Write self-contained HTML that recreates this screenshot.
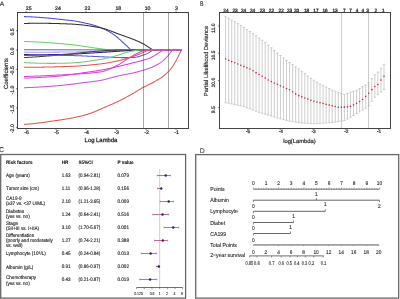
<!DOCTYPE html>
<html><head><meta charset="utf-8"><title>figure</title>
<style>
html,body{margin:0;padding:0;background:#fff;width:400px;height:299px;overflow:hidden}
svg{display:block;will-change:transform}
text{font-family:"Liberation Sans",sans-serif;text-rendering:geometricPrecision}
</style></head><body>
<svg width="400" height="299" viewBox="0 0 400 299">
<rect width="400" height="299" fill="#fff"/>
<text x="-0.3" y="6.0" font-size="6.6" text-anchor="start" fill="#333" stroke="#333" stroke-width="0.15">A</text>
<rect x="17.5" y="12.5" width="171.00" height="116.00" fill="none" stroke="#3a3a3a" stroke-width="0.95"/>
<line x1="26.00" y1="12.50" x2="26.00" y2="10.90" stroke="#333" stroke-width="0.6"/>
<text x="28.7" y="10.2" font-size="5.2" text-anchor="middle" fill="#222" stroke="#222" stroke-width="0.2">25</text>
<line x1="26.00" y1="128.50" x2="26.00" y2="130.10" stroke="#333" stroke-width="0.6"/>
<text x="26.5" y="134.0" font-size="5.2" text-anchor="middle" fill="#222" stroke="#222" stroke-width="0.2">-6</text>
<line x1="56.00" y1="12.50" x2="56.00" y2="10.90" stroke="#333" stroke-width="0.6"/>
<text x="58" y="10.2" font-size="5.2" text-anchor="middle" fill="#222" stroke="#222" stroke-width="0.2">24</text>
<line x1="56.00" y1="128.50" x2="56.00" y2="130.10" stroke="#333" stroke-width="0.6"/>
<text x="56.5" y="134.0" font-size="5.2" text-anchor="middle" fill="#222" stroke="#222" stroke-width="0.2">-5</text>
<line x1="86.00" y1="12.50" x2="86.00" y2="10.90" stroke="#333" stroke-width="0.6"/>
<text x="87.5" y="10.2" font-size="5.2" text-anchor="middle" fill="#222" stroke="#222" stroke-width="0.2">22</text>
<line x1="86.00" y1="128.50" x2="86.00" y2="130.10" stroke="#333" stroke-width="0.6"/>
<text x="86.5" y="134.0" font-size="5.2" text-anchor="middle" fill="#222" stroke="#222" stroke-width="0.2">-4</text>
<line x1="116.00" y1="12.50" x2="116.00" y2="10.90" stroke="#333" stroke-width="0.6"/>
<text x="118.3" y="10.2" font-size="5.2" text-anchor="middle" fill="#222" stroke="#222" stroke-width="0.2">18</text>
<line x1="116.00" y1="128.50" x2="116.00" y2="130.10" stroke="#333" stroke-width="0.6"/>
<text x="116.5" y="134.0" font-size="5.2" text-anchor="middle" fill="#222" stroke="#222" stroke-width="0.2">-3</text>
<line x1="146.00" y1="12.50" x2="146.00" y2="10.90" stroke="#333" stroke-width="0.6"/>
<text x="147.6" y="10.2" font-size="5.2" text-anchor="middle" fill="#222" stroke="#222" stroke-width="0.2">10</text>
<line x1="146.00" y1="128.50" x2="146.00" y2="130.10" stroke="#333" stroke-width="0.6"/>
<text x="146.5" y="134.0" font-size="5.2" text-anchor="middle" fill="#222" stroke="#222" stroke-width="0.2">-2</text>
<line x1="176.00" y1="12.50" x2="176.00" y2="10.90" stroke="#333" stroke-width="0.6"/>
<text x="176.4" y="10.2" font-size="5.2" text-anchor="middle" fill="#222" stroke="#222" stroke-width="0.2">3</text>
<line x1="176.00" y1="128.50" x2="176.00" y2="130.10" stroke="#333" stroke-width="0.6"/>
<text x="176.5" y="134.0" font-size="5.2" text-anchor="middle" fill="#222" stroke="#222" stroke-width="0.2">-1</text>
<line x1="17.50" y1="30.65" x2="15.90" y2="30.65" stroke="#333" stroke-width="0.6"/>
<text x="14.4" y="31.95" font-size="5.2" text-anchor="middle" fill="#222" stroke="#222" stroke-width="0.2" transform="rotate(-90 14.4 31.95)">0.5</text>
<line x1="17.50" y1="50.00" x2="15.90" y2="50.00" stroke="#333" stroke-width="0.6"/>
<text x="14.4" y="51.3" font-size="5.2" text-anchor="middle" fill="#222" stroke="#222" stroke-width="0.2" transform="rotate(-90 14.4 51.3)">0.0</text>
<line x1="17.50" y1="69.35" x2="15.90" y2="69.35" stroke="#333" stroke-width="0.6"/>
<text x="14.4" y="70.64999999999999" font-size="5.2" text-anchor="middle" fill="#222" stroke="#222" stroke-width="0.2" transform="rotate(-90 14.4 70.64999999999999)">-0.5</text>
<line x1="17.50" y1="88.70" x2="15.90" y2="88.70" stroke="#333" stroke-width="0.6"/>
<text x="14.4" y="90.0" font-size="5.2" text-anchor="middle" fill="#222" stroke="#222" stroke-width="0.2" transform="rotate(-90 14.4 90.0)">-1.0</text>
<line x1="17.50" y1="108.05" x2="15.90" y2="108.05" stroke="#333" stroke-width="0.6"/>
<text x="14.4" y="109.35000000000001" font-size="5.2" text-anchor="middle" fill="#222" stroke="#222" stroke-width="0.2" transform="rotate(-90 14.4 109.35000000000001)">-1.5</text>
<line x1="17.50" y1="127.40" x2="15.90" y2="127.40" stroke="#333" stroke-width="0.6"/>
<text x="14.4" y="128.70000000000002" font-size="5.2" text-anchor="middle" fill="#222" stroke="#222" stroke-width="0.2" transform="rotate(-90 14.4 128.70000000000002)">-2.0</text>
<text x="7.6" y="73.5" font-size="6.0" text-anchor="middle" fill="#222" stroke="#222" stroke-width="0.15" transform="rotate(-90 7.6 73.5)">Coefficients</text>
<text x="101" y="141.5" font-size="5.9" text-anchor="middle" fill="#222" stroke="#222" stroke-width="0.25">Log Lambda</text>
<path d="M24.00,16.60 L24.50,16.61 L25.00,16.62 L25.50,16.64 L26.00,16.65 L26.50,16.67 L27.00,16.68 L27.50,16.70 L28.00,16.72 L28.50,16.74 L29.00,16.76 L29.50,16.78 L30.00,16.80 L30.50,16.82 L31.00,16.85 L31.50,16.87 L32.00,16.90 L32.50,16.93 L33.00,16.95 L33.50,16.98 L34.00,17.01 L34.50,17.04 L35.00,17.07 L35.50,17.10 L36.00,17.13 L36.50,17.17 L37.00,17.20 L37.50,17.23 L38.00,17.27 L38.50,17.30 L39.00,17.34 L39.50,17.38 L40.00,17.41 L40.50,17.45 L41.00,17.49 L41.50,17.53 L42.00,17.57 L42.50,17.61 L43.00,17.65 L43.50,17.69 L44.00,17.74 L44.50,17.78 L45.00,17.82 L45.50,17.87 L46.00,17.91 L46.50,17.96 L47.00,18.00 L47.50,18.05 L48.00,18.09 L48.50,18.14 L49.00,18.19 L49.50,18.24 L50.00,18.28 L50.50,18.33 L51.00,18.38 L51.50,18.43 L52.00,18.48 L52.50,18.53 L53.00,18.58 L53.50,18.63 L54.00,18.68 L54.50,18.73 L55.00,18.79 L55.50,18.84 L56.00,18.89 L56.50,18.94 L57.00,18.99 L57.50,19.05 L58.00,19.10 L58.50,19.15 L59.00,19.21 L59.50,19.26 L60.00,19.31 L60.50,19.37 L61.00,19.42 L61.50,19.48 L62.00,19.53 L62.50,19.58 L63.00,19.64 L63.50,19.69 L64.00,19.75 L64.50,19.80 L65.00,19.86 L65.50,19.91 L66.00,19.96 L66.50,20.02 L67.00,20.07 L67.50,20.13 L68.00,20.18 L68.50,20.24 L69.00,20.29 L69.50,20.35 L70.00,20.40 L70.50,20.46 L71.00,20.51 L71.50,20.58 L72.00,20.64 L72.50,20.71 L73.00,20.78 L73.50,20.85 L74.00,20.92 L74.50,21.00 L75.00,21.08 L75.50,21.16 L76.00,21.25 L76.50,21.33 L77.00,21.42 L77.50,21.51 L78.00,21.61 L78.50,21.70 L79.00,21.80 L79.50,21.89 L80.00,21.99 L80.50,22.09 L81.00,22.20 L81.50,22.30 L82.00,22.40 L82.50,22.51 L83.00,22.62 L83.50,22.73 L84.00,22.84 L84.50,22.95 L85.00,23.06 L85.50,23.17 L86.00,23.28 L86.50,23.40 L87.00,23.51 L87.50,23.62 L88.00,23.74 L88.50,23.85 L89.00,23.97 L89.50,24.08 L90.00,24.20 L90.50,24.32 L91.00,24.44 L91.50,24.57 L92.00,24.71 L92.50,24.85 L93.00,24.99 L93.50,25.14 L94.00,25.29 L94.50,25.45 L95.00,25.61 L95.50,25.78 L96.00,25.95 L96.50,26.12 L97.00,26.30 L97.50,26.48 L98.00,26.67 L98.50,26.85 L99.00,27.04 L99.50,27.24 L100.00,27.43 L100.50,27.63 L101.00,27.83 L101.50,28.03 L102.00,28.24 L102.50,28.45 L103.00,28.65 L103.50,28.86 L104.00,29.07 L104.50,29.29 L105.00,29.50 L105.50,29.72 L106.00,29.95 L106.50,30.19 L107.00,30.44 L107.50,30.70 L108.00,30.97 L108.50,31.25 L109.00,31.54 L109.50,31.83 L110.00,32.14 L110.50,32.45 L111.00,32.77 L111.50,33.09 L112.00,33.42 L112.50,33.75 L113.00,34.09 L113.50,34.44 L114.00,34.79 L114.50,35.14 L115.00,35.50 L115.50,35.87 L116.00,36.25 L116.50,36.65 L117.00,37.06 L117.50,37.48 L118.00,37.92 L118.50,38.36 L119.00,38.81 L119.50,39.27 L120.00,39.73 L120.50,40.19 L121.00,40.66 L121.50,41.12 L122.00,41.58 L122.50,42.04 L123.00,42.50 L123.50,42.95 L124.00,43.41 L124.50,43.87 L125.00,44.33 L125.50,44.79 L126.00,45.25 L126.50,45.72 L127.00,46.19 L127.50,46.66 L128.00,47.13 L128.50,47.60 L129.00,48.08 L129.50,48.56 L130.00,49.04 L130.50,49.52 L131.00,50.00 L182,50" fill="none" stroke="#4b4bdc" stroke-width="1.05" stroke-linejoin="round"/>
<path d="M24.00,23.50 L24.50,23.48 L25.00,23.47 L25.50,23.45 L26.00,23.44 L26.50,23.42 L27.00,23.41 L27.50,23.40 L28.00,23.38 L28.50,23.37 L29.00,23.36 L29.50,23.35 L30.00,23.34 L30.50,23.33 L31.00,23.32 L31.50,23.32 L32.00,23.31 L32.50,23.30 L33.00,23.29 L33.50,23.29 L34.00,23.28 L34.50,23.28 L35.00,23.28 L35.50,23.27 L36.00,23.27 L36.50,23.27 L37.00,23.26 L37.50,23.26 L38.00,23.26 L38.50,23.26 L39.00,23.26 L39.50,23.26 L40.00,23.26 L40.50,23.26 L41.00,23.27 L41.50,23.27 L42.00,23.27 L42.50,23.27 L43.00,23.28 L43.50,23.28 L44.00,23.29 L44.50,23.29 L45.00,23.30 L45.50,23.30 L46.00,23.31 L46.50,23.32 L47.00,23.32 L47.50,23.33 L48.00,23.34 L48.50,23.35 L49.00,23.36 L49.50,23.37 L50.00,23.37 L50.50,23.38 L51.00,23.40 L51.50,23.41 L52.00,23.42 L52.50,23.43 L53.00,23.44 L53.50,23.45 L54.00,23.46 L54.50,23.48 L55.00,23.49 L55.50,23.50 L56.00,23.52 L56.50,23.53 L57.00,23.54 L57.50,23.56 L58.00,23.57 L58.50,23.59 L59.00,23.60 L59.50,23.62 L60.00,23.64 L60.50,23.65 L61.00,23.67 L61.50,23.68 L62.00,23.70 L62.50,23.72 L63.00,23.74 L63.50,23.75 L64.00,23.77 L64.50,23.79 L65.00,23.81 L65.50,23.83 L66.00,23.84 L66.50,23.86 L67.00,23.88 L67.50,23.90 L68.00,23.92 L68.50,23.94 L69.00,23.96 L69.50,23.98 L70.00,24.00 L70.50,24.02 L71.00,24.04 L71.50,24.07 L72.00,24.09 L72.50,24.12 L73.00,24.15 L73.50,24.18 L74.00,24.21 L74.50,24.25 L75.00,24.28 L75.50,24.32 L76.00,24.36 L76.50,24.40 L77.00,24.44 L77.50,24.48 L78.00,24.53 L78.50,24.57 L79.00,24.62 L79.50,24.67 L80.00,24.72 L80.50,24.77 L81.00,24.82 L81.50,24.87 L82.00,24.93 L82.50,24.99 L83.00,25.04 L83.50,25.10 L84.00,25.16 L84.50,25.23 L85.00,25.29 L85.50,25.35 L86.00,25.42 L86.50,25.49 L87.00,25.55 L87.50,25.62 L88.00,25.69 L88.50,25.77 L89.00,25.84 L89.50,25.91 L90.00,25.99 L90.50,26.06 L91.00,26.14 L91.50,26.22 L92.00,26.30 L92.50,26.38 L93.00,26.46 L93.50,26.54 L94.00,26.63 L94.50,26.71 L95.00,26.80 L95.50,26.88 L96.00,26.97 L96.50,27.06 L97.00,27.15 L97.50,27.24 L98.00,27.33 L98.50,27.42 L99.00,27.51 L99.50,27.61 L100.00,27.70 L100.50,27.80 L101.00,27.90 L101.50,28.02 L102.00,28.13 L102.50,28.26 L103.00,28.39 L103.50,28.52 L104.00,28.66 L104.50,28.81 L105.00,28.96 L105.50,29.12 L106.00,29.28 L106.50,29.44 L107.00,29.61 L107.50,29.78 L108.00,29.95 L108.50,30.13 L109.00,30.31 L109.50,30.50 L110.00,30.68 L110.50,30.87 L111.00,31.06 L111.50,31.25 L112.00,31.44 L112.50,31.64 L113.00,31.83 L113.50,32.02 L114.00,32.22 L114.50,32.42 L115.00,32.61 L115.50,32.81 L116.00,33.00 L116.50,33.19 L117.00,33.39 L117.50,33.58 L118.00,33.76 L118.50,33.95 L119.00,34.14 L119.50,34.32 L120.00,34.50 L120.50,34.68 L121.00,34.86 L121.50,35.03 L122.00,35.21 L122.50,35.39 L123.00,35.57 L123.50,35.75 L124.00,35.93 L124.50,36.10 L125.00,36.28 L125.50,36.46 L126.00,36.64 L126.50,36.82 L127.00,37.01 L127.50,37.19 L128.00,37.37 L128.50,37.55 L129.00,37.74 L129.50,37.92 L130.00,38.11 L130.50,38.30 L131.00,38.49 L131.50,38.68 L132.00,38.87 L132.50,39.07 L133.00,39.26 L133.50,39.46 L134.00,39.66 L134.50,39.86 L135.00,40.06 L135.50,40.26 L136.00,40.47 L136.50,40.68 L137.00,40.89 L137.50,41.10 L138.00,41.32 L138.50,41.53 L139.00,41.75 L139.50,41.98 L140.00,42.20 L140.50,42.43 L141.00,42.67 L141.50,42.92 L142.00,43.17 L142.50,43.44 L143.00,43.71 L143.50,43.98 L144.00,44.27 L144.50,44.56 L145.00,44.85 L145.50,45.16 L146.00,45.46 L146.50,45.77 L147.00,46.09 L147.50,46.41 L148.00,46.74 L148.50,47.07 L149.00,47.40 L149.50,47.73 L150.00,48.07 L150.50,48.41 L151.00,48.76 L151.50,49.10 L152.00,49.44 L152.50,49.79 L152.80,50.00 L182,50" fill="none" stroke="#333333" stroke-width="1.05" stroke-linejoin="round"/>
<path d="M24.00,41.50 L24.50,41.51 L25.00,41.52 L25.50,41.53 L26.00,41.55 L26.50,41.56 L27.00,41.57 L27.50,41.59 L28.00,41.60 L28.50,41.62 L29.00,41.63 L29.50,41.65 L30.00,41.67 L30.50,41.69 L31.00,41.71 L31.50,41.72 L32.00,41.74 L32.50,41.76 L33.00,41.78 L33.50,41.81 L34.00,41.83 L34.50,41.85 L35.00,41.87 L35.50,41.90 L36.00,41.92 L36.50,41.94 L37.00,41.97 L37.50,41.99 L38.00,42.02 L38.50,42.05 L39.00,42.07 L39.50,42.10 L40.00,42.13 L40.50,42.16 L41.00,42.19 L41.50,42.21 L42.00,42.24 L42.50,42.27 L43.00,42.31 L43.50,42.34 L44.00,42.37 L44.50,42.40 L45.00,42.43 L45.50,42.46 L46.00,42.50 L46.50,42.53 L47.00,42.57 L47.50,42.60 L48.00,42.63 L48.50,42.67 L49.00,42.71 L49.50,42.74 L50.00,42.78 L50.50,42.82 L51.00,42.85 L51.50,42.89 L52.00,42.93 L52.50,42.97 L53.00,43.00 L53.50,43.04 L54.00,43.08 L54.50,43.12 L55.00,43.16 L55.50,43.20 L56.00,43.24 L56.50,43.29 L57.00,43.33 L57.50,43.37 L58.00,43.41 L58.50,43.45 L59.00,43.50 L59.50,43.54 L60.00,43.58 L60.50,43.62 L61.00,43.67 L61.50,43.71 L62.00,43.76 L62.50,43.80 L63.00,43.85 L63.50,43.89 L64.00,43.94 L64.50,43.98 L65.00,44.03 L65.50,44.07 L66.00,44.12 L66.50,44.17 L67.00,44.21 L67.50,44.26 L68.00,44.31 L68.50,44.36 L69.00,44.40 L69.50,44.45 L70.00,44.50 L70.50,44.55 L71.00,44.60 L71.50,44.65 L72.00,44.71 L72.50,44.76 L73.00,44.82 L73.50,44.88 L74.00,44.94 L74.50,45.00 L75.00,45.06 L75.50,45.13 L76.00,45.19 L76.50,45.26 L77.00,45.33 L77.50,45.40 L78.00,45.47 L78.50,45.54 L79.00,45.61 L79.50,45.68 L80.00,45.75 L80.50,45.83 L81.00,45.90 L81.50,45.97 L82.00,46.05 L82.50,46.13 L83.00,46.20 L83.50,46.28 L84.00,46.35 L84.50,46.43 L85.00,46.51 L85.50,46.59 L86.00,46.66 L86.50,46.74 L87.00,46.82 L87.50,46.90 L88.00,46.97 L88.50,47.05 L89.00,47.13 L89.50,47.20 L90.00,47.28 L90.50,47.35 L91.00,47.43 L91.50,47.50 L92.00,47.57 L92.50,47.65 L93.00,47.72 L93.50,47.79 L94.00,47.86 L94.50,47.93 L95.00,48.00 L95.50,48.07 L96.00,48.14 L96.50,48.20 L97.00,48.27 L97.50,48.34 L98.00,48.41 L98.50,48.47 L99.00,48.54 L99.50,48.61 L100.00,48.68 L100.50,48.74 L101.00,48.81 L101.50,48.88 L102.00,48.95 L102.50,49.01 L103.00,49.08 L103.50,49.15 L104.00,49.21 L104.50,49.28 L105.00,49.34 L105.50,49.41 L106.00,49.48 L106.50,49.54 L107.00,49.61 L107.50,49.67 L108.00,49.74 L108.50,49.80 L109.00,49.87 L109.50,49.94 L110.00,50.00 L182,50" fill="none" stroke="#6ccf6c" stroke-width="1.05" stroke-linejoin="round"/>
<path d="M24.00,49.80 L182.00,50.00" fill="none" stroke="#5560d8" stroke-width="1.05" stroke-linejoin="round"/>
<path d="M24.00,52.20 L24.50,52.20 L25.00,52.20 L25.50,52.21 L26.00,52.21 L26.50,52.21 L27.00,52.21 L27.50,52.21 L28.00,52.21 L28.50,52.22 L29.00,52.22 L29.50,52.22 L30.00,52.22 L30.50,52.22 L31.00,52.22 L31.50,52.22 L32.00,52.22 L32.50,52.22 L33.00,52.22 L33.50,52.22 L34.00,52.22 L34.50,52.22 L35.00,52.22 L35.50,52.22 L36.00,52.22 L36.50,52.22 L37.00,52.22 L37.50,52.22 L38.00,52.22 L38.50,52.22 L39.00,52.22 L39.50,52.21 L40.00,52.21 L40.50,52.21 L41.00,52.21 L41.50,52.21 L42.00,52.21 L42.50,52.21 L43.00,52.20 L43.50,52.20 L44.00,52.20 L44.50,52.20 L45.00,52.20 L45.50,52.19 L46.00,52.19 L46.50,52.19 L47.00,52.19 L47.50,52.18 L48.00,52.18 L48.50,52.18 L49.00,52.18 L49.50,52.17 L50.00,52.17 L50.50,52.17 L51.00,52.16 L51.50,52.16 L52.00,52.16 L52.50,52.15 L53.00,52.15 L53.50,52.15 L54.00,52.14 L54.50,52.14 L55.00,52.14 L55.50,52.13 L56.00,52.13 L56.50,52.12 L57.00,52.12 L57.50,52.12 L58.00,52.11 L58.50,52.11 L59.00,52.10 L59.50,52.10 L60.00,52.10 L60.50,52.09 L61.00,52.09 L61.50,52.08 L62.00,52.08 L62.50,52.07 L63.00,52.07 L63.50,52.06 L64.00,52.06 L64.50,52.06 L65.00,52.05 L65.50,52.05 L66.00,52.04 L66.50,52.04 L67.00,52.03 L67.50,52.03 L68.00,52.02 L68.50,52.02 L69.00,52.01 L69.50,52.01 L70.00,52.00 L70.50,51.99 L71.00,51.99 L71.50,51.98 L72.00,51.98 L72.50,51.97 L73.00,51.96 L73.50,51.96 L74.00,51.95 L74.50,51.94 L75.00,51.93 L75.50,51.93 L76.00,51.92 L76.50,51.91 L77.00,51.90 L77.50,51.89 L78.00,51.88 L78.50,51.87 L79.00,51.86 L79.50,51.85 L80.00,51.84 L80.50,51.83 L81.00,51.82 L81.50,51.81 L82.00,51.80 L82.50,51.79 L83.00,51.78 L83.50,51.77 L84.00,51.76 L84.50,51.75 L85.00,51.74 L85.50,51.72 L86.00,51.71 L86.50,51.70 L87.00,51.69 L87.50,51.67 L88.00,51.66 L88.50,51.65 L89.00,51.63 L89.50,51.62 L90.00,51.61 L90.50,51.59 L91.00,51.58 L91.50,51.57 L92.00,51.55 L92.50,51.54 L93.00,51.53 L93.50,51.51 L94.00,51.50 L94.50,51.48 L95.00,51.47 L95.50,51.45 L96.00,51.44 L96.50,51.42 L97.00,51.41 L97.50,51.39 L98.00,51.38 L98.50,51.36 L99.00,51.35 L99.50,51.33 L100.00,51.32 L100.50,51.30 L101.00,51.29 L101.50,51.27 L102.00,51.26 L102.50,51.24 L103.00,51.22 L103.50,51.21 L104.00,51.19 L104.50,51.18 L105.00,51.16 L105.50,51.14 L106.00,51.13 L106.50,51.11 L107.00,51.10 L107.50,51.08 L108.00,51.06 L108.50,51.05 L109.00,51.03 L109.50,51.02 L110.00,51.00 L110.50,50.98 L111.00,50.97 L111.50,50.95 L112.00,50.93 L112.50,50.91 L113.00,50.89 L113.50,50.87 L114.00,50.85 L114.50,50.83 L115.00,50.81 L115.50,50.79 L116.00,50.76 L116.50,50.74 L117.00,50.72 L117.50,50.69 L118.00,50.67 L118.50,50.64 L119.00,50.62 L119.50,50.59 L120.00,50.57 L120.50,50.54 L121.00,50.51 L121.50,50.49 L122.00,50.46 L122.50,50.43 L123.00,50.40 L123.50,50.38 L124.00,50.35 L124.50,50.32 L125.00,50.29 L125.50,50.26 L126.00,50.23 L126.50,50.21 L127.00,50.18 L127.50,50.15 L128.00,50.12 L128.50,50.09 L129.00,50.06 L129.50,50.03 L130.00,50.00 L182,50" fill="none" stroke="#b898e0" stroke-width="1.05" stroke-linejoin="round"/>
<path d="M24.00,54.60 L24.50,54.61 L25.00,54.61 L25.50,54.62 L26.00,54.62 L26.50,54.63 L27.00,54.63 L27.50,54.64 L28.00,54.64 L28.50,54.64 L29.00,54.65 L29.50,54.65 L30.00,54.66 L30.50,54.66 L31.00,54.66 L31.50,54.66 L32.00,54.67 L32.50,54.67 L33.00,54.67 L33.50,54.67 L34.00,54.68 L34.50,54.68 L35.00,54.68 L35.50,54.68 L36.00,54.68 L36.50,54.68 L37.00,54.68 L37.50,54.68 L38.00,54.68 L38.50,54.68 L39.00,54.68 L39.50,54.68 L40.00,54.68 L40.50,54.68 L41.00,54.68 L41.50,54.68 L42.00,54.68 L42.50,54.68 L43.00,54.67 L43.50,54.67 L44.00,54.67 L44.50,54.67 L45.00,54.66 L45.50,54.66 L46.00,54.66 L46.50,54.65 L47.00,54.65 L47.50,54.65 L48.00,54.64 L48.50,54.64 L49.00,54.63 L49.50,54.63 L50.00,54.62 L50.50,54.62 L51.00,54.61 L51.50,54.61 L52.00,54.60 L52.50,54.59 L53.00,54.59 L53.50,54.58 L54.00,54.57 L54.50,54.56 L55.00,54.56 L55.50,54.55 L56.00,54.54 L56.50,54.53 L57.00,54.52 L57.50,54.51 L58.00,54.50 L58.50,54.50 L59.00,54.49 L59.50,54.48 L60.00,54.47 L60.50,54.45 L61.00,54.44 L61.50,54.43 L62.00,54.42 L62.50,54.41 L63.00,54.40 L63.50,54.38 L64.00,54.37 L64.50,54.36 L65.00,54.35 L65.50,54.33 L66.00,54.32 L66.50,54.31 L67.00,54.29 L67.50,54.28 L68.00,54.26 L68.50,54.25 L69.00,54.23 L69.50,54.22 L70.00,54.20 L70.50,54.18 L71.00,54.17 L71.50,54.15 L72.00,54.13 L72.50,54.11 L73.00,54.09 L73.50,54.07 L74.00,54.05 L74.50,54.03 L75.00,54.00 L75.50,53.98 L76.00,53.96 L76.50,53.93 L77.00,53.91 L77.50,53.88 L78.00,53.86 L78.50,53.83 L79.00,53.80 L79.50,53.78 L80.00,53.75 L80.50,53.72 L81.00,53.69 L81.50,53.66 L82.00,53.63 L82.50,53.60 L83.00,53.57 L83.50,53.54 L84.00,53.51 L84.50,53.48 L85.00,53.45 L85.50,53.42 L86.00,53.39 L86.50,53.36 L87.00,53.33 L87.50,53.30 L88.00,53.26 L88.50,53.23 L89.00,53.20 L89.50,53.17 L90.00,53.13 L90.50,53.10 L91.00,53.07 L91.50,53.04 L92.00,53.00 L92.50,52.97 L93.00,52.94 L93.50,52.91 L94.00,52.87 L94.50,52.84 L95.00,52.81 L95.50,52.78 L96.00,52.75 L96.50,52.72 L97.00,52.68 L97.50,52.65 L98.00,52.62 L98.50,52.59 L99.00,52.56 L99.50,52.53 L100.00,52.50 L100.50,52.47 L101.00,52.44 L101.50,52.41 L102.00,52.38 L102.50,52.35 L103.00,52.31 L103.50,52.28 L104.00,52.25 L104.50,52.22 L105.00,52.18 L105.50,52.15 L106.00,52.11 L106.50,52.08 L107.00,52.05 L107.50,52.01 L108.00,51.98 L108.50,51.94 L109.00,51.91 L109.50,51.87 L110.00,51.84 L110.50,51.80 L111.00,51.76 L111.50,51.73 L112.00,51.69 L112.50,51.66 L113.00,51.62 L113.50,51.59 L114.00,51.55 L114.50,51.51 L115.00,51.48 L115.50,51.44 L116.00,51.41 L116.50,51.37 L117.00,51.34 L117.50,51.30 L118.00,51.27 L118.50,51.23 L119.00,51.20 L119.50,51.16 L120.00,51.13 L120.50,51.09 L121.00,51.06 L121.50,51.03 L122.00,50.99 L122.50,50.96 L123.00,50.93 L123.50,50.90 L124.00,50.87 L124.50,50.83 L125.00,50.80 L125.50,50.77 L126.00,50.74 L126.50,50.71 L127.00,50.68 L127.50,50.66 L128.00,50.63 L128.50,50.60 L129.00,50.57 L129.50,50.55 L130.00,50.52 L130.50,50.50 L131.00,50.47 L131.50,50.45 L132.00,50.42 L132.50,50.40 L133.00,50.38 L133.50,50.36 L134.00,50.34 L134.50,50.32 L135.00,50.30 L135.50,50.28 L136.00,50.26 L136.50,50.25 L137.00,50.23 L137.50,50.21 L138.00,50.20 L138.50,50.18 L139.00,50.16 L139.50,50.15 L140.00,50.13 L140.50,50.12 L141.00,50.11 L141.50,50.09 L142.00,50.08 L142.50,50.07 L143.00,50.05 L143.50,50.04 L144.00,50.03 L144.50,50.02 L145.00,50.01 L145.50,50.00 L146.00,49.99 L146.50,49.98 L147.00,49.97 L147.50,49.96 L148.00,49.95 L148.50,49.94 L149.00,49.93 L149.50,49.92 L150.00,49.92 L150.50,49.91 L151.00,49.90 L151.50,49.90 L152.00,49.89 L152.50,49.88 L153.00,49.88 L153.50,49.87 L154.00,49.87 L154.50,49.86 L155.00,49.86 L155.50,49.85 L156.00,49.85 L156.50,49.85 L157.00,49.84 L157.50,49.84 L158.00,49.84 L158.50,49.84 L159.00,49.83 L159.50,49.83 L160.00,49.83 L160.50,49.83 L161.00,49.83 L161.50,49.83 L162.00,49.83 L162.50,49.83 L163.00,49.83 L163.50,49.83 L164.00,49.83 L164.50,49.83 L165.00,49.83 L165.50,49.83 L166.00,49.83 L166.50,49.84 L167.00,49.84 L167.50,49.84 L168.00,49.84 L168.50,49.85 L169.00,49.85 L169.50,49.85 L170.00,49.86 L170.50,49.86 L171.00,49.86 L171.50,49.87 L172.00,49.87 L172.50,49.88 L173.00,49.88 L173.50,49.89 L174.00,49.89 L174.50,49.90 L175.00,49.90 L175.50,49.91 L176.00,49.91 L176.50,49.92 L177.00,49.93 L177.50,49.93 L178.00,49.94 L178.50,49.95 L179.00,49.95 L179.50,49.96 L180.00,49.97 L180.50,49.98 L181.00,49.98 L181.50,49.99 L182.00,50.00" fill="none" stroke="#222288" stroke-width="1.05" stroke-linejoin="round"/>
<path d="M24.00,57.60 L24.50,57.57 L25.00,57.55 L25.50,57.52 L26.00,57.49 L26.50,57.46 L27.00,57.43 L27.50,57.40 L28.00,57.37 L28.50,57.34 L29.00,57.31 L29.50,57.28 L30.00,57.25 L30.50,57.22 L31.00,57.19 L31.50,57.16 L32.00,57.13 L32.50,57.09 L33.00,57.06 L33.50,57.03 L34.00,57.00 L34.50,56.96 L35.00,56.93 L35.50,56.90 L36.00,56.86 L36.50,56.83 L37.00,56.79 L37.50,56.76 L38.00,56.72 L38.50,56.69 L39.00,56.65 L39.50,56.62 L40.00,56.58 L40.50,56.54 L41.00,56.51 L41.50,56.47 L42.00,56.43 L42.50,56.40 L43.00,56.36 L43.50,56.32 L44.00,56.28 L44.50,56.25 L45.00,56.21 L45.50,56.17 L46.00,56.13 L46.50,56.09 L47.00,56.05 L47.50,56.02 L48.00,55.98 L48.50,55.94 L49.00,55.90 L49.50,55.86 L50.00,55.82 L50.50,55.78 L51.00,55.74 L51.50,55.70 L52.00,55.66 L52.50,55.62 L53.00,55.58 L53.50,55.54 L54.00,55.50 L54.50,55.46 L55.00,55.41 L55.50,55.37 L56.00,55.33 L56.50,55.29 L57.00,55.25 L57.50,55.21 L58.00,55.17 L58.50,55.13 L59.00,55.08 L59.50,55.04 L60.00,55.00 L60.50,54.96 L61.00,54.91 L61.50,54.87 L62.00,54.83 L62.50,54.78 L63.00,54.74 L63.50,54.69 L64.00,54.64 L64.50,54.59 L65.00,54.55 L65.50,54.50 L66.00,54.45 L66.50,54.40 L67.00,54.35 L67.50,54.30 L68.00,54.25 L68.50,54.19 L69.00,54.14 L69.50,54.09 L70.00,54.04 L70.50,53.98 L71.00,53.93 L71.50,53.88 L72.00,53.82 L72.50,53.77 L73.00,53.71 L73.50,53.66 L74.00,53.60 L74.50,53.55 L75.00,53.49 L75.50,53.43 L76.00,53.38 L76.50,53.32 L77.00,53.27 L77.50,53.21 L78.00,53.16 L78.50,53.10 L79.00,53.04 L79.50,52.99 L80.00,52.93 L80.50,52.88 L81.00,52.82 L81.50,52.76 L82.00,52.71 L82.50,52.65 L83.00,52.60 L83.50,52.54 L84.00,52.49 L84.50,52.44 L85.00,52.38 L85.50,52.33 L86.00,52.27 L86.50,52.22 L87.00,52.17 L87.50,52.12 L88.00,52.06 L88.50,52.01 L89.00,51.96 L89.50,51.91 L90.00,51.86 L90.50,51.81 L91.00,51.76 L91.50,51.71 L92.00,51.67 L92.50,51.62 L93.00,51.57 L93.50,51.53 L94.00,51.48 L94.50,51.44 L95.00,51.39 L95.50,51.35 L96.00,51.31 L96.50,51.27 L97.00,51.23 L97.50,51.19 L98.00,51.15 L98.50,51.11 L99.00,51.07 L99.50,51.04 L100.00,51.00 L100.50,50.97 L101.00,50.93 L101.50,50.90 L102.00,50.86 L102.50,50.83 L103.00,50.80 L103.50,50.76 L104.00,50.73 L104.50,50.70 L105.00,50.66 L105.50,50.63 L106.00,50.60 L106.50,50.57 L107.00,50.54 L107.50,50.51 L108.00,50.48 L108.50,50.45 L109.00,50.43 L109.50,50.40 L110.00,50.37 L110.50,50.35 L111.00,50.32 L111.50,50.30 L112.00,50.27 L112.50,50.25 L113.00,50.23 L113.50,50.20 L114.00,50.18 L114.50,50.16 L115.00,50.14 L115.50,50.12 L116.00,50.11 L116.50,50.09 L117.00,50.07 L117.50,50.06 L118.00,50.05 L118.50,50.03 L119.00,50.02 L119.50,50.01 L120.00,50.00 L182,50" fill="none" stroke="#444444" stroke-width="1.05" stroke-linejoin="round"/>
<path d="M24.00,55.50 L24.50,55.49 L25.00,55.49 L25.50,55.48 L26.00,55.47 L26.50,55.46 L27.00,55.46 L27.50,55.45 L28.00,55.44 L28.50,55.44 L29.00,55.43 L29.50,55.42 L30.00,55.42 L30.50,55.41 L31.00,55.40 L31.50,55.40 L32.00,55.39 L32.50,55.39 L33.00,55.38 L33.50,55.38 L34.00,55.37 L34.50,55.37 L35.00,55.36 L35.50,55.36 L36.00,55.35 L36.50,55.35 L37.00,55.34 L37.50,55.34 L38.00,55.33 L38.50,55.33 L39.00,55.33 L39.50,55.32 L40.00,55.32 L40.50,55.32 L41.00,55.31 L41.50,55.31 L42.00,55.31 L42.50,55.30 L43.00,55.30 L43.50,55.30 L44.00,55.30 L44.50,55.30 L45.00,55.29 L45.50,55.29 L46.00,55.29 L46.50,55.29 L47.00,55.29 L47.50,55.29 L48.00,55.29 L48.50,55.29 L49.00,55.29 L49.50,55.29 L50.00,55.29 L50.50,55.29 L51.00,55.29 L51.50,55.29 L52.00,55.29 L52.50,55.29 L53.00,55.29 L53.50,55.30 L54.00,55.30 L54.50,55.30 L55.00,55.30 L55.50,55.31 L56.00,55.31 L56.50,55.31 L57.00,55.32 L57.50,55.32 L58.00,55.32 L58.50,55.33 L59.00,55.33 L59.50,55.34 L60.00,55.34 L60.50,55.35 L61.00,55.35 L61.50,55.36 L62.00,55.36 L62.50,55.37 L63.00,55.38 L63.50,55.38 L64.00,55.39 L64.50,55.40 L65.00,55.41 L65.50,55.41 L66.00,55.42 L66.50,55.43 L67.00,55.44 L67.50,55.45 L68.00,55.46 L68.50,55.47 L69.00,55.48 L69.50,55.49 L70.00,55.50 L70.50,55.51 L71.00,55.52 L71.50,55.53 L72.00,55.55 L72.50,55.56 L73.00,55.57 L73.50,55.59 L74.00,55.60 L74.50,55.62 L75.00,55.63 L75.50,55.65 L76.00,55.67 L76.50,55.68 L77.00,55.70 L77.50,55.72 L78.00,55.74 L78.50,55.75 L79.00,55.77 L79.50,55.79 L80.00,55.81 L80.50,55.83 L81.00,55.85 L81.50,55.87 L82.00,55.89 L82.50,55.91 L83.00,55.93 L83.50,55.95 L84.00,55.98 L84.50,56.00 L85.00,56.02 L85.50,56.04 L86.00,56.06 L86.50,56.09 L87.00,56.11 L87.50,56.13 L88.00,56.15 L88.50,56.18 L89.00,56.20 L89.50,56.22 L90.00,56.24 L90.50,56.27 L91.00,56.29 L91.50,56.31 L92.00,56.34 L92.50,56.36 L93.00,56.38 L93.50,56.41 L94.00,56.43 L94.50,56.45 L95.00,56.48 L95.50,56.50 L96.00,56.52 L96.50,56.54 L97.00,56.57 L97.50,56.59 L98.00,56.61 L98.50,56.63 L99.00,56.66 L99.50,56.68 L100.00,56.70 L100.50,56.72 L101.00,56.74 L101.50,56.77 L102.00,56.79 L102.50,56.81 L103.00,56.84 L103.50,56.86 L104.00,56.88 L104.50,56.91 L105.00,56.93 L105.50,56.96 L106.00,56.98 L106.50,57.01 L107.00,57.03 L107.50,57.05 L108.00,57.08 L108.50,57.10 L109.00,57.13 L109.50,57.15 L110.00,57.18 L110.50,57.20 L111.00,57.23 L111.50,57.25 L112.00,57.27 L112.50,57.30 L113.00,57.32 L113.50,57.35 L114.00,57.37 L114.50,57.39 L115.00,57.41 L115.50,57.44 L116.00,57.46 L116.50,57.48 L117.00,57.50 L117.50,57.52 L118.00,57.54 L118.50,57.55 L119.00,57.57 L119.50,57.58 L120.00,57.59 L120.50,57.60 L121.00,57.61 L121.50,57.62 L122.00,57.62 L122.50,57.63 L123.00,57.63 L123.50,57.63 L124.00,57.63 L124.50,57.63 L125.00,57.63 L125.50,57.62 L126.00,57.62 L126.50,57.61 L127.00,57.61 L127.50,57.60 L128.00,57.60 L128.50,57.59 L129.00,57.58 L129.50,57.57 L130.00,57.56 L130.50,57.55 L131.00,57.54 L131.50,57.53 L132.00,57.52 L132.50,57.51 L133.00,57.50 L133.50,57.48 L134.00,57.45 L134.50,57.40 L135.00,57.34 L135.50,57.27 L136.00,57.18 L136.50,57.09 L137.00,56.98 L137.50,56.87 L138.00,56.74 L138.50,56.61 L139.00,56.47 L139.50,56.32 L140.00,56.17 L140.50,56.02 L141.00,55.85 L141.50,55.69 L142.00,55.52 L142.50,55.35 L143.00,55.18 L143.50,55.01 L144.00,54.84 L144.50,54.67 L145.00,54.50 L145.50,54.32 L146.00,54.12 L146.50,53.90 L147.00,53.66 L147.50,53.40 L148.00,53.12 L148.50,52.84 L149.00,52.54 L149.50,52.22 L150.00,51.90 L150.50,51.57 L151.00,51.24 L151.50,50.90 L152.00,50.55 L152.50,50.21 L152.80,50.00 L182,50" fill="none" stroke="#5a5ae0" stroke-width="1.05" stroke-linejoin="round"/>
<path d="M24.00,62.60 L24.50,62.63 L25.00,62.65 L25.50,62.68 L26.00,62.70 L26.50,62.73 L27.00,62.75 L27.50,62.78 L28.00,62.80 L28.50,62.82 L29.00,62.85 L29.50,62.87 L30.00,62.89 L30.50,62.91 L31.00,62.93 L31.50,62.95 L32.00,62.97 L32.50,62.99 L33.00,63.01 L33.50,63.03 L34.00,63.05 L34.50,63.06 L35.00,63.08 L35.50,63.10 L36.00,63.11 L36.50,63.13 L37.00,63.15 L37.50,63.16 L38.00,63.17 L38.50,63.19 L39.00,63.20 L39.50,63.21 L40.00,63.23 L40.50,63.24 L41.00,63.25 L41.50,63.26 L42.00,63.27 L42.50,63.28 L43.00,63.29 L43.50,63.30 L44.00,63.31 L44.50,63.31 L45.00,63.32 L45.50,63.33 L46.00,63.34 L46.50,63.34 L47.00,63.35 L47.50,63.35 L48.00,63.36 L48.50,63.36 L49.00,63.36 L49.50,63.37 L50.00,63.37 L50.50,63.37 L51.00,63.37 L51.50,63.37 L52.00,63.37 L52.50,63.37 L53.00,63.37 L53.50,63.37 L54.00,63.37 L54.50,63.36 L55.00,63.36 L55.50,63.36 L56.00,63.35 L56.50,63.35 L57.00,63.34 L57.50,63.33 L58.00,63.33 L58.50,63.32 L59.00,63.31 L59.50,63.31 L60.00,63.30 L60.50,63.29 L61.00,63.28 L61.50,63.27 L62.00,63.26 L62.50,63.24 L63.00,63.23 L63.50,63.22 L64.00,63.21 L64.50,63.19 L65.00,63.18 L65.50,63.16 L66.00,63.15 L66.50,63.13 L67.00,63.11 L67.50,63.10 L68.00,63.08 L68.50,63.06 L69.00,63.04 L69.50,63.02 L70.00,63.00 L70.50,62.98 L71.00,62.95 L71.50,62.93 L72.00,62.90 L72.50,62.87 L73.00,62.84 L73.50,62.81 L74.00,62.78 L74.50,62.74 L75.00,62.71 L75.50,62.67 L76.00,62.63 L76.50,62.59 L77.00,62.54 L77.50,62.50 L78.00,62.45 L78.50,62.40 L79.00,62.36 L79.50,62.31 L80.00,62.26 L80.50,62.20 L81.00,62.15 L81.50,62.09 L82.00,62.04 L82.50,61.98 L83.00,61.92 L83.50,61.86 L84.00,61.80 L84.50,61.74 L85.00,61.68 L85.50,61.62 L86.00,61.55 L86.50,61.49 L87.00,61.42 L87.50,61.35 L88.00,61.29 L88.50,61.22 L89.00,61.15 L89.50,61.08 L90.00,61.01 L90.50,60.94 L91.00,60.87 L91.50,60.79 L92.00,60.72 L92.50,60.65 L93.00,60.57 L93.50,60.50 L94.00,60.42 L94.50,60.35 L95.00,60.27 L95.50,60.20 L96.00,60.12 L96.50,60.04 L97.00,59.97 L97.50,59.89 L98.00,59.81 L98.50,59.73 L99.00,59.66 L99.50,59.58 L100.00,59.50 L100.50,59.42 L101.00,59.34 L101.50,59.25 L102.00,59.16 L102.50,59.07 L103.00,58.97 L103.50,58.87 L104.00,58.77 L104.50,58.66 L105.00,58.56 L105.50,58.45 L106.00,58.34 L106.50,58.22 L107.00,58.10 L107.50,57.99 L108.00,57.87 L108.50,57.74 L109.00,57.62 L109.50,57.49 L110.00,57.37 L110.50,57.24 L111.00,57.11 L111.50,56.98 L112.00,56.85 L112.50,56.71 L113.00,56.58 L113.50,56.45 L114.00,56.31 L114.50,56.18 L115.00,56.04 L115.50,55.91 L116.00,55.77 L116.50,55.64 L117.00,55.50 L117.50,55.36 L118.00,55.21 L118.50,55.06 L119.00,54.90 L119.50,54.74 L120.00,54.57 L120.50,54.39 L121.00,54.22 L121.50,54.04 L122.00,53.87 L122.50,53.69 L123.00,53.52 L123.50,53.34 L124.00,53.17 L124.50,53.00 L125.00,52.84 L125.50,52.68 L126.00,52.53 L126.50,52.38 L127.00,52.25 L127.50,52.12 L128.00,52.00 L128.50,51.89 L129.00,51.77 L129.50,51.66 L130.00,51.55 L130.50,51.45 L131.00,51.34 L131.50,51.24 L132.00,51.14 L132.50,51.04 L133.00,50.94 L133.50,50.85 L134.00,50.76 L134.50,50.67 L135.00,50.59 L135.50,50.51 L136.00,50.44 L136.50,50.37 L137.00,50.30 L137.50,50.24 L138.00,50.18 L138.50,50.13 L139.00,50.08 L139.50,50.04 L140.00,50.00 L182,50" fill="none" stroke="#6ccf6c" stroke-width="1.05" stroke-linejoin="round"/>
<path d="M24.00,67.20 L24.50,67.21 L25.00,67.21 L25.50,67.21 L26.00,67.22 L26.50,67.22 L27.00,67.22 L27.50,67.23 L28.00,67.23 L28.50,67.23 L29.00,67.23 L29.50,67.23 L30.00,67.23 L30.50,67.23 L31.00,67.23 L31.50,67.23 L32.00,67.23 L32.50,67.23 L33.00,67.23 L33.50,67.23 L34.00,67.22 L34.50,67.22 L35.00,67.22 L35.50,67.21 L36.00,67.21 L36.50,67.21 L37.00,67.20 L37.50,67.20 L38.00,67.19 L38.50,67.19 L39.00,67.18 L39.50,67.18 L40.00,67.17 L40.50,67.16 L41.00,67.16 L41.50,67.15 L42.00,67.14 L42.50,67.13 L43.00,67.12 L43.50,67.12 L44.00,67.11 L44.50,67.10 L45.00,67.09 L45.50,67.08 L46.00,67.07 L46.50,67.06 L47.00,67.05 L47.50,67.04 L48.00,67.03 L48.50,67.02 L49.00,67.01 L49.50,67.00 L50.00,66.99 L50.50,66.97 L51.00,66.96 L51.50,66.95 L52.00,66.94 L52.50,66.93 L53.00,66.91 L53.50,66.90 L54.00,66.89 L54.50,66.87 L55.00,66.86 L55.50,66.85 L56.00,66.83 L56.50,66.82 L57.00,66.81 L57.50,66.79 L58.00,66.78 L58.50,66.76 L59.00,66.75 L59.50,66.73 L60.00,66.72 L60.50,66.70 L61.00,66.69 L61.50,66.67 L62.00,66.66 L62.50,66.64 L63.00,66.63 L63.50,66.61 L64.00,66.60 L64.50,66.58 L65.00,66.56 L65.50,66.55 L66.00,66.53 L66.50,66.52 L67.00,66.50 L67.50,66.48 L68.00,66.47 L68.50,66.45 L69.00,66.43 L69.50,66.42 L70.00,66.40 L70.50,66.38 L71.00,66.36 L71.50,66.34 L72.00,66.32 L72.50,66.30 L73.00,66.28 L73.50,66.26 L74.00,66.23 L74.50,66.21 L75.00,66.18 L75.50,66.15 L76.00,66.12 L76.50,66.09 L77.00,66.06 L77.50,66.03 L78.00,66.00 L78.50,65.97 L79.00,65.93 L79.50,65.90 L80.00,65.86 L80.50,65.82 L81.00,65.79 L81.50,65.75 L82.00,65.71 L82.50,65.67 L83.00,65.63 L83.50,65.59 L84.00,65.55 L84.50,65.51 L85.00,65.47 L85.50,65.42 L86.00,65.38 L86.50,65.33 L87.00,65.29 L87.50,65.24 L88.00,65.20 L88.50,65.15 L89.00,65.11 L89.50,65.06 L90.00,65.01 L90.50,64.96 L91.00,64.91 L91.50,64.87 L92.00,64.82 L92.50,64.77 L93.00,64.72 L93.50,64.67 L94.00,64.62 L94.50,64.57 L95.00,64.52 L95.50,64.47 L96.00,64.41 L96.50,64.36 L97.00,64.31 L97.50,64.26 L98.00,64.21 L98.50,64.16 L99.00,64.10 L99.50,64.05 L100.00,64.00 L100.50,63.95 L101.00,63.89 L101.50,63.83 L102.00,63.77 L102.50,63.70 L103.00,63.63 L103.50,63.56 L104.00,63.49 L104.50,63.41 L105.00,63.33 L105.50,63.25 L106.00,63.17 L106.50,63.09 L107.00,63.00 L107.50,62.91 L108.00,62.82 L108.50,62.73 L109.00,62.63 L109.50,62.54 L110.00,62.44 L110.50,62.34 L111.00,62.24 L111.50,62.14 L112.00,62.04 L112.50,61.94 L113.00,61.84 L113.50,61.74 L114.00,61.63 L114.50,61.53 L115.00,61.42 L115.50,61.32 L116.00,61.21 L116.50,61.11 L117.00,61.00 L117.50,60.89 L118.00,60.78 L118.50,60.67 L119.00,60.56 L119.50,60.44 L120.00,60.32 L120.50,60.20 L121.00,60.07 L121.50,59.95 L122.00,59.82 L122.50,59.68 L123.00,59.55 L123.50,59.41 L124.00,59.28 L124.50,59.14 L125.00,59.00 L125.50,58.85 L126.00,58.71 L126.50,58.56 L127.00,58.41 L127.50,58.26 L128.00,58.11 L128.50,57.95 L129.00,57.80 L129.50,57.64 L130.00,57.48 L130.50,57.32 L131.00,57.16 L131.50,57.00 L132.00,56.83 L132.50,56.67 L133.00,56.50 L133.50,56.33 L134.00,56.15 L134.50,55.97 L135.00,55.79 L135.50,55.60 L136.00,55.40 L136.50,55.21 L137.00,55.00 L137.50,54.80 L138.00,54.59 L138.50,54.39 L139.00,54.18 L139.50,53.97 L140.00,53.75 L140.50,53.54 L141.00,53.33 L141.50,53.12 L142.00,52.91 L142.50,52.71 L143.00,52.50 L143.50,52.30 L144.00,52.09 L144.50,51.88 L145.00,51.68 L145.50,51.47 L146.00,51.26 L146.50,51.05 L147.00,50.84 L147.50,50.63 L148.00,50.42 L148.50,50.21 L149.00,50.00 L182,50" fill="none" stroke="#e8584a" stroke-width="1.05" stroke-linejoin="round"/>
<path d="M24.00,76.50 L24.50,76.49 L25.00,76.47 L25.50,76.46 L26.00,76.44 L26.50,76.42 L27.00,76.41 L27.50,76.39 L28.00,76.37 L28.50,76.36 L29.00,76.34 L29.50,76.32 L30.00,76.31 L30.50,76.29 L31.00,76.27 L31.50,76.25 L32.00,76.23 L32.50,76.22 L33.00,76.20 L33.50,76.18 L34.00,76.16 L34.50,76.14 L35.00,76.12 L35.50,76.10 L36.00,76.08 L36.50,76.06 L37.00,76.04 L37.50,76.02 L38.00,76.00 L38.50,75.98 L39.00,75.96 L39.50,75.94 L40.00,75.92 L40.50,75.90 L41.00,75.87 L41.50,75.85 L42.00,75.83 L42.50,75.81 L43.00,75.79 L43.50,75.77 L44.00,75.74 L44.50,75.72 L45.00,75.70 L45.50,75.68 L46.00,75.65 L46.50,75.63 L47.00,75.61 L47.50,75.59 L48.00,75.56 L48.50,75.54 L49.00,75.52 L49.50,75.49 L50.00,75.47 L50.50,75.45 L51.00,75.42 L51.50,75.40 L52.00,75.38 L52.50,75.35 L53.00,75.33 L53.50,75.31 L54.00,75.28 L54.50,75.26 L55.00,75.24 L55.50,75.21 L56.00,75.19 L56.50,75.17 L57.00,75.14 L57.50,75.12 L58.00,75.09 L58.50,75.07 L59.00,75.05 L59.50,75.02 L60.00,75.00 L60.50,74.98 L61.00,74.95 L61.50,74.93 L62.00,74.90 L62.50,74.88 L63.00,74.85 L63.50,74.83 L64.00,74.80 L64.50,74.77 L65.00,74.74 L65.50,74.72 L66.00,74.69 L66.50,74.66 L67.00,74.63 L67.50,74.60 L68.00,74.58 L68.50,74.55 L69.00,74.52 L69.50,74.49 L70.00,74.46 L70.50,74.43 L71.00,74.40 L71.50,74.37 L72.00,74.34 L72.50,74.30 L73.00,74.27 L73.50,74.24 L74.00,74.21 L74.50,74.18 L75.00,74.15 L75.50,74.12 L76.00,74.08 L76.50,74.05 L77.00,74.02 L77.50,73.99 L78.00,73.95 L78.50,73.92 L79.00,73.89 L79.50,73.86 L80.00,73.82 L80.50,73.79 L81.00,73.76 L81.50,73.73 L82.00,73.69 L82.50,73.66 L83.00,73.63 L83.50,73.60 L84.00,73.56 L84.50,73.53 L85.00,73.50 L85.50,73.47 L86.00,73.43 L86.50,73.40 L87.00,73.36 L87.50,73.32 L88.00,73.29 L88.50,73.25 L89.00,73.21 L89.50,73.16 L90.00,73.12 L90.50,73.08 L91.00,73.03 L91.50,72.99 L92.00,72.94 L92.50,72.89 L93.00,72.84 L93.50,72.79 L94.00,72.73 L94.50,72.68 L95.00,72.62 L95.50,72.57 L96.00,72.51 L96.50,72.45 L97.00,72.39 L97.50,72.33 L98.00,72.27 L98.50,72.20 L99.00,72.14 L99.50,72.07 L100.00,72.00 L100.50,71.93 L101.00,71.84 L101.50,71.75 L102.00,71.64 L102.50,71.53 L103.00,71.40 L103.50,71.27 L104.00,71.13 L104.50,70.98 L105.00,70.82 L105.50,70.66 L106.00,70.49 L106.50,70.31 L107.00,70.12 L107.50,69.93 L108.00,69.73 L108.50,69.53 L109.00,69.32 L109.50,69.10 L110.00,68.89 L110.50,68.66 L111.00,68.43 L111.50,68.20 L112.00,67.97 L112.50,67.73 L113.00,67.49 L113.50,67.25 L114.00,67.00 L114.50,66.76 L115.00,66.51 L115.50,66.26 L116.00,66.01 L116.50,65.75 L117.00,65.50 L117.50,65.25 L118.00,65.00 L118.50,64.74 L119.00,64.47 L119.50,64.18 L120.00,63.87 L120.50,63.56 L121.00,63.23 L121.50,62.90 L122.00,62.56 L122.50,62.22 L123.00,61.87 L123.50,61.52 L124.00,61.17 L124.50,60.81 L125.00,60.47 L125.50,60.12 L126.00,59.78 L126.50,59.45 L127.00,59.12 L127.50,58.80 L128.00,58.50 L128.50,58.20 L129.00,57.90 L129.50,57.61 L130.00,57.31 L130.50,57.02 L131.00,56.73 L131.50,56.44 L132.00,56.16 L132.50,55.88 L133.00,55.60 L133.50,55.32 L134.00,55.05 L134.50,54.78 L135.00,54.51 L135.50,54.25 L136.00,54.00 L136.50,53.75 L137.00,53.50 L137.50,53.26 L138.00,53.02 L138.50,52.78 L139.00,52.54 L139.50,52.31 L140.00,52.08 L140.50,51.85 L141.00,51.63 L141.50,51.41 L142.00,51.19 L142.50,50.98 L143.00,50.77 L143.50,50.57 L144.00,50.38 L144.50,50.19 L145.00,50.00 L182,50" fill="none" stroke="#e040e0" stroke-width="1.05" stroke-linejoin="round"/>
<path d="M24.00,78.00 L24.50,77.99 L25.00,77.99 L25.50,77.98 L26.00,77.97 L26.50,77.97 L27.00,77.96 L27.50,77.95 L28.00,77.93 L28.50,77.92 L29.00,77.91 L29.50,77.90 L30.00,77.88 L30.50,77.87 L31.00,77.85 L31.50,77.84 L32.00,77.82 L32.50,77.80 L33.00,77.79 L33.50,77.77 L34.00,77.75 L34.50,77.73 L35.00,77.71 L35.50,77.69 L36.00,77.67 L36.50,77.64 L37.00,77.62 L37.50,77.60 L38.00,77.57 L38.50,77.55 L39.00,77.52 L39.50,77.49 L40.00,77.47 L40.50,77.44 L41.00,77.41 L41.50,77.38 L42.00,77.35 L42.50,77.33 L43.00,77.30 L43.50,77.26 L44.00,77.23 L44.50,77.20 L45.00,77.17 L45.50,77.14 L46.00,77.10 L46.50,77.07 L47.00,77.04 L47.50,77.00 L48.00,76.97 L48.50,76.93 L49.00,76.89 L49.50,76.86 L50.00,76.82 L50.50,76.78 L51.00,76.75 L51.50,76.71 L52.00,76.67 L52.50,76.63 L53.00,76.59 L53.50,76.55 L54.00,76.51 L54.50,76.47 L55.00,76.43 L55.50,76.39 L56.00,76.35 L56.50,76.30 L57.00,76.26 L57.50,76.22 L58.00,76.18 L58.50,76.13 L59.00,76.09 L59.50,76.04 L60.00,76.00 L60.50,75.95 L61.00,75.91 L61.50,75.86 L62.00,75.81 L62.50,75.75 L63.00,75.70 L63.50,75.64 L64.00,75.59 L64.50,75.53 L65.00,75.47 L65.50,75.40 L66.00,75.34 L66.50,75.28 L67.00,75.21 L67.50,75.14 L68.00,75.07 L68.50,75.00 L69.00,74.93 L69.50,74.86 L70.00,74.79 L70.50,74.72 L71.00,74.64 L71.50,74.57 L72.00,74.49 L72.50,74.42 L73.00,74.34 L73.50,74.27 L74.00,74.19 L74.50,74.11 L75.00,74.03 L75.50,73.95 L76.00,73.88 L76.50,73.80 L77.00,73.72 L77.50,73.64 L78.00,73.56 L78.50,73.48 L79.00,73.41 L79.50,73.33 L80.00,73.25 L80.50,73.17 L81.00,73.10 L81.50,73.02 L82.00,72.94 L82.50,72.87 L83.00,72.79 L83.50,72.72 L84.00,72.64 L84.50,72.57 L85.00,72.50 L85.50,72.43 L86.00,72.36 L86.50,72.29 L87.00,72.22 L87.50,72.15 L88.00,72.08 L88.50,72.01 L89.00,71.94 L89.50,71.87 L90.00,71.80 L90.50,71.73 L91.00,71.66 L91.50,71.59 L92.00,71.52 L92.50,71.45 L93.00,71.38 L93.50,71.31 L94.00,71.24 L94.50,71.16 L95.00,71.09 L95.50,71.01 L96.00,70.94 L96.50,70.86 L97.00,70.79 L97.50,70.71 L98.00,70.63 L98.50,70.55 L99.00,70.47 L99.50,70.38 L100.00,70.30 L100.50,70.21 L101.00,70.13 L101.50,70.04 L102.00,69.95 L102.50,69.85 L103.00,69.76 L103.50,69.66 L104.00,69.57 L104.50,69.47 L105.00,69.37 L105.50,69.27 L106.00,69.17 L106.50,69.06 L107.00,68.96 L107.50,68.85 L108.00,68.75 L108.50,68.64 L109.00,68.53 L109.50,68.42 L110.00,68.31 L110.50,68.20 L111.00,68.09 L111.50,67.98 L112.00,67.86 L112.50,67.75 L113.00,67.64 L113.50,67.53 L114.00,67.41 L114.50,67.30 L115.00,67.18 L115.50,67.07 L116.00,66.96 L116.50,66.84 L117.00,66.73 L117.50,66.61 L118.00,66.50 L118.50,66.39 L119.00,66.27 L119.50,66.16 L120.00,66.04 L120.50,65.92 L121.00,65.81 L121.50,65.69 L122.00,65.57 L122.50,65.45 L123.00,65.34 L123.50,65.22 L124.00,65.10 L124.50,64.98 L125.00,64.86 L125.50,64.73 L126.00,64.61 L126.50,64.49 L127.00,64.37 L127.50,64.24 L128.00,64.12 L128.50,64.00 L129.00,63.87 L129.50,63.75 L130.00,63.62 L130.50,63.49 L131.00,63.37 L131.50,63.24 L132.00,63.11 L132.50,62.99 L133.00,62.86 L133.50,62.73 L134.00,62.60 L134.50,62.47 L135.00,62.34 L135.50,62.21 L136.00,62.08 L136.50,61.95 L137.00,61.82 L137.50,61.69 L138.00,61.56 L138.50,61.43 L139.00,61.30 L139.50,61.17 L140.00,61.03 L140.50,60.90 L141.00,60.77 L141.50,60.63 L142.00,60.50 L142.50,60.37 L143.00,60.23 L143.50,60.10 L144.00,59.96 L144.50,59.82 L145.00,59.67 L145.50,59.53 L146.00,59.38 L146.50,59.23 L147.00,59.07 L147.50,58.90 L148.00,58.74 L148.50,58.56 L149.00,58.38 L149.50,58.19 L150.00,58.00 L150.50,57.79 L151.00,57.56 L151.50,57.32 L152.00,57.05 L152.50,56.78 L153.00,56.49 L153.50,56.19 L154.00,55.89 L154.50,55.57 L155.00,55.26 L155.50,54.94 L156.00,54.63 L156.50,54.31 L157.00,54.00 L157.50,53.69 L158.00,53.37 L158.50,53.05 L159.00,52.73 L159.50,52.40 L160.00,52.07 L160.50,51.73 L161.00,51.39 L161.50,51.05 L162.00,50.70 L162.50,50.35 L163.00,50.00 L182,50" fill="none" stroke="#e040e0" stroke-width="1.05" stroke-linejoin="round"/>
<path d="M24.00,87.70 L24.50,87.69 L25.00,87.67 L25.50,87.66 L26.00,87.65 L26.50,87.63 L27.00,87.62 L27.50,87.60 L28.00,87.58 L28.50,87.57 L29.00,87.55 L29.50,87.53 L30.00,87.51 L30.50,87.49 L31.00,87.47 L31.50,87.45 L32.00,87.42 L32.50,87.40 L33.00,87.38 L33.50,87.35 L34.00,87.33 L34.50,87.31 L35.00,87.28 L35.50,87.25 L36.00,87.23 L36.50,87.20 L37.00,87.17 L37.50,87.15 L38.00,87.12 L38.50,87.09 L39.00,87.06 L39.50,87.03 L40.00,87.00 L40.50,86.97 L41.00,86.94 L41.50,86.90 L42.00,86.87 L42.50,86.84 L43.00,86.81 L43.50,86.77 L44.00,86.74 L44.50,86.71 L45.00,86.67 L45.50,86.64 L46.00,86.60 L46.50,86.57 L47.00,86.53 L47.50,86.49 L48.00,86.46 L48.50,86.42 L49.00,86.38 L49.50,86.34 L50.00,86.31 L50.50,86.27 L51.00,86.23 L51.50,86.19 L52.00,86.15 L52.50,86.11 L53.00,86.07 L53.50,86.03 L54.00,85.99 L54.50,85.95 L55.00,85.91 L55.50,85.87 L56.00,85.83 L56.50,85.79 L57.00,85.75 L57.50,85.71 L58.00,85.67 L58.50,85.63 L59.00,85.58 L59.50,85.54 L60.00,85.50 L60.50,85.46 L61.00,85.41 L61.50,85.37 L62.00,85.32 L62.50,85.27 L63.00,85.22 L63.50,85.17 L64.00,85.12 L64.50,85.07 L65.00,85.02 L65.50,84.96 L66.00,84.91 L66.50,84.85 L67.00,84.80 L67.50,84.74 L68.00,84.68 L68.50,84.62 L69.00,84.56 L69.50,84.50 L70.00,84.44 L70.50,84.38 L71.00,84.32 L71.50,84.25 L72.00,84.19 L72.50,84.13 L73.00,84.06 L73.50,84.00 L74.00,83.93 L74.50,83.87 L75.00,83.80 L75.50,83.74 L76.00,83.67 L76.50,83.60 L77.00,83.54 L77.50,83.47 L78.00,83.41 L78.50,83.34 L79.00,83.27 L79.50,83.21 L80.00,83.14 L80.50,83.08 L81.00,83.01 L81.50,82.95 L82.00,82.88 L82.50,82.82 L83.00,82.75 L83.50,82.69 L84.00,82.63 L84.50,82.56 L85.00,82.50 L85.50,82.44 L86.00,82.38 L86.50,82.32 L87.00,82.26 L87.50,82.20 L88.00,82.14 L88.50,82.08 L89.00,82.02 L89.50,81.96 L90.00,81.90 L90.50,81.84 L91.00,81.78 L91.50,81.72 L92.00,81.65 L92.50,81.59 L93.00,81.53 L93.50,81.46 L94.00,81.40 L94.50,81.33 L95.00,81.26 L95.50,81.20 L96.00,81.13 L96.50,81.05 L97.00,80.98 L97.50,80.91 L98.00,80.83 L98.50,80.75 L99.00,80.67 L99.50,80.59 L100.00,80.50 L100.50,80.41 L101.00,80.32 L101.50,80.22 L102.00,80.12 L102.50,80.01 L103.00,79.90 L103.50,79.79 L104.00,79.67 L104.50,79.55 L105.00,79.43 L105.50,79.31 L106.00,79.18 L106.50,79.05 L107.00,78.92 L107.50,78.78 L108.00,78.65 L108.50,78.51 L109.00,78.38 L109.50,78.24 L110.00,78.10 L110.50,77.96 L111.00,77.82 L111.50,77.69 L112.00,77.55 L112.50,77.41 L113.00,77.27 L113.50,77.14 L114.00,77.00 L114.50,76.87 L115.00,76.74 L115.50,76.61 L116.00,76.48 L116.50,76.36 L117.00,76.24 L117.50,76.12 L118.00,76.00 L118.50,75.89 L119.00,75.78 L119.50,75.67 L120.00,75.56 L120.50,75.45 L121.00,75.35 L121.50,75.24 L122.00,75.14 L122.50,75.04 L123.00,74.94 L123.50,74.84 L124.00,74.75 L124.50,74.65 L125.00,74.55 L125.50,74.46 L126.00,74.36 L126.50,74.26 L127.00,74.17 L127.50,74.07 L128.00,73.97 L128.50,73.88 L129.00,73.78 L129.50,73.68 L130.00,73.58 L130.50,73.48 L131.00,73.38 L131.50,73.27 L132.00,73.17 L132.50,73.06 L133.00,72.95 L133.50,72.84 L134.00,72.73 L134.50,72.62 L135.00,72.50 L135.50,72.38 L136.00,72.26 L136.50,72.14 L137.00,72.01 L137.50,71.88 L138.00,71.75 L138.50,71.62 L139.00,71.48 L139.50,71.34 L140.00,71.20 L140.50,71.06 L141.00,70.91 L141.50,70.77 L142.00,70.62 L142.50,70.47 L143.00,70.32 L143.50,70.16 L144.00,70.00 L144.50,69.85 L145.00,69.69 L145.50,69.52 L146.00,69.36 L146.50,69.20 L147.00,69.03 L147.50,68.86 L148.00,68.69 L148.50,68.52 L149.00,68.35 L149.50,68.18 L150.00,68.00 L150.50,67.82 L151.00,67.63 L151.50,67.43 L152.00,67.22 L152.50,67.00 L153.00,66.78 L153.50,66.55 L154.00,66.31 L154.50,66.06 L155.00,65.81 L155.50,65.55 L156.00,65.28 L156.50,65.01 L157.00,64.73 L157.50,64.45 L158.00,64.17 L158.50,63.88 L159.00,63.59 L159.50,63.30 L160.00,63.00 L160.50,62.69 L161.00,62.35 L161.50,61.99 L162.00,61.61 L162.50,61.21 L163.00,60.79 L163.50,60.35 L164.00,59.90 L164.50,59.44 L165.00,58.97 L165.50,58.49 L166.00,58.00 L166.50,57.49 L167.00,56.96 L167.50,56.39 L168.00,55.80 L168.50,55.19 L169.00,54.55 L169.50,53.90 L170.00,53.23 L170.50,52.55 L171.00,51.85 L171.50,51.14 L172.00,50.43 L172.30,50.00 L182,50" fill="none" stroke="#d050e0" stroke-width="1.05" stroke-linejoin="round"/>
<path d="M24.00,124.40 L24.50,124.37 L25.00,124.33 L25.50,124.30 L26.00,124.26 L26.50,124.22 L27.00,124.18 L27.50,124.14 L28.00,124.10 L28.50,124.06 L29.00,124.01 L29.50,123.97 L30.00,123.92 L30.50,123.88 L31.00,123.83 L31.50,123.78 L32.00,123.73 L32.50,123.68 L33.00,123.62 L33.50,123.57 L34.00,123.52 L34.50,123.46 L35.00,123.41 L35.50,123.35 L36.00,123.29 L36.50,123.23 L37.00,123.17 L37.50,123.11 L38.00,123.05 L38.50,122.99 L39.00,122.93 L39.50,122.87 L40.00,122.80 L40.50,122.74 L41.00,122.68 L41.50,122.61 L42.00,122.54 L42.50,122.48 L43.00,122.41 L43.50,122.34 L44.00,122.28 L44.50,122.21 L45.00,122.14 L45.50,122.07 L46.00,122.00 L46.50,121.93 L47.00,121.86 L47.50,121.79 L48.00,121.72 L48.50,121.65 L49.00,121.58 L49.50,121.51 L50.00,121.44 L50.50,121.37 L51.00,121.29 L51.50,121.22 L52.00,121.15 L52.50,121.08 L53.00,121.00 L53.50,120.93 L54.00,120.86 L54.50,120.79 L55.00,120.72 L55.50,120.64 L56.00,120.57 L56.50,120.50 L57.00,120.43 L57.50,120.36 L58.00,120.28 L58.50,120.21 L59.00,120.14 L59.50,120.07 L60.00,120.00 L60.50,119.93 L61.00,119.86 L61.50,119.78 L62.00,119.71 L62.50,119.63 L63.00,119.56 L63.50,119.48 L64.00,119.40 L64.50,119.32 L65.00,119.24 L65.50,119.16 L66.00,119.08 L66.50,118.99 L67.00,118.91 L67.50,118.82 L68.00,118.73 L68.50,118.65 L69.00,118.56 L69.50,118.46 L70.00,118.37 L70.50,118.28 L71.00,118.18 L71.50,118.09 L72.00,117.99 L72.50,117.89 L73.00,117.79 L73.50,117.69 L74.00,117.59 L74.50,117.49 L75.00,117.38 L75.50,117.28 L76.00,117.17 L76.50,117.06 L77.00,116.95 L77.50,116.84 L78.00,116.73 L78.50,116.61 L79.00,116.50 L79.50,116.38 L80.00,116.26 L80.50,116.14 L81.00,116.02 L81.50,115.90 L82.00,115.77 L82.50,115.65 L83.00,115.52 L83.50,115.39 L84.00,115.26 L84.50,115.13 L85.00,115.00 L85.50,114.86 L86.00,114.72 L86.50,114.58 L87.00,114.43 L87.50,114.27 L88.00,114.12 L88.50,113.95 L89.00,113.79 L89.50,113.62 L90.00,113.44 L90.50,113.27 L91.00,113.09 L91.50,112.90 L92.00,112.72 L92.50,112.53 L93.00,112.33 L93.50,112.14 L94.00,111.94 L94.50,111.74 L95.00,111.53 L95.50,111.33 L96.00,111.12 L96.50,110.91 L97.00,110.70 L97.50,110.49 L98.00,110.27 L98.50,110.06 L99.00,109.84 L99.50,109.62 L100.00,109.40 L100.50,109.18 L101.00,108.96 L101.50,108.74 L102.00,108.52 L102.50,108.29 L103.00,108.07 L103.50,107.85 L104.00,107.63 L104.50,107.40 L105.00,107.18 L105.50,106.96 L106.00,106.74 L106.50,106.52 L107.00,106.30 L107.50,106.08 L108.00,105.86 L108.50,105.64 L109.00,105.43 L109.50,105.21 L110.00,105.00 L110.50,104.79 L111.00,104.58 L111.50,104.36 L112.00,104.15 L112.50,103.93 L113.00,103.71 L113.50,103.50 L114.00,103.28 L114.50,103.05 L115.00,102.83 L115.50,102.61 L116.00,102.38 L116.50,102.15 L117.00,101.92 L117.50,101.69 L118.00,101.46 L118.50,101.22 L119.00,100.98 L119.50,100.74 L120.00,100.50 L120.50,100.25 L121.00,100.01 L121.50,99.76 L122.00,99.50 L122.50,99.25 L123.00,98.99 L123.50,98.73 L124.00,98.47 L124.50,98.20 L125.00,97.94 L125.50,97.67 L126.00,97.40 L126.50,97.13 L127.00,96.86 L127.50,96.58 L128.00,96.31 L128.50,96.03 L129.00,95.75 L129.50,95.47 L130.00,95.19 L130.50,94.91 L131.00,94.63 L131.50,94.35 L132.00,94.07 L132.50,93.78 L133.00,93.50 L133.50,93.21 L134.00,92.92 L134.50,92.63 L135.00,92.32 L135.50,92.02 L136.00,91.71 L136.50,91.41 L137.00,91.10 L137.50,90.79 L138.00,90.48 L138.50,90.16 L139.00,89.86 L139.50,89.55 L140.00,89.24 L140.50,88.94 L141.00,88.64 L141.50,88.35 L142.00,88.06 L142.50,87.78 L143.00,87.50 L143.50,87.23 L144.00,86.97 L144.50,86.71 L145.00,86.46 L145.50,86.21 L146.00,85.97 L146.50,85.73 L147.00,85.48 L147.50,85.24 L148.00,85.00 L148.50,84.76 L149.00,84.51 L149.50,84.26 L150.00,84.00 L150.50,83.74 L151.00,83.48 L151.50,83.22 L152.00,82.96 L152.50,82.70 L153.00,82.44 L153.50,82.18 L154.00,81.92 L154.50,81.65 L155.00,81.38 L155.50,81.11 L156.00,80.84 L156.50,80.56 L157.00,80.28 L157.50,80.00 L158.00,79.71 L158.50,79.42 L159.00,79.12 L159.50,78.81 L160.00,78.50 L160.50,78.18 L161.00,77.84 L161.50,77.49 L162.00,77.13 L162.50,76.75 L163.00,76.36 L163.50,75.97 L164.00,75.56 L164.50,75.14 L165.00,74.71 L165.50,74.27 L166.00,73.83 L166.50,73.38 L167.00,72.93 L167.50,72.47 L168.00,72.00 L168.50,71.51 L169.00,70.99 L169.50,70.44 L170.00,69.86 L170.50,69.25 L171.00,68.62 L171.50,67.97 L172.00,67.30 L172.50,66.60 L173.00,65.86 L173.50,65.07 L174.00,64.26 L174.50,63.42 L175.00,62.56 L175.50,61.68 L176.00,60.80 L176.50,59.89 L177.00,58.95 L177.50,57.97 L178.00,56.98 L178.50,55.99 L179.00,55.00 L179.50,54.01 L180.00,53.02 L180.50,52.02 L181.00,51.01 L181.50,50.00 L182,50" fill="none" stroke="#e8584a" stroke-width="1.05" stroke-linejoin="round"/>
<line x1="143.50" y1="12.50" x2="143.50" y2="128.50" stroke="#3a3a3a" stroke-width="0.9" stroke-dasharray="1,1"/>
<line x1="168.50" y1="12.50" x2="168.50" y2="128.50" stroke="#3a3a3a" stroke-width="0.9" stroke-dasharray="1,1"/>
<text transform="translate(200,5.9) scale(0.78,1)" font-size="6.8" fill="#333" stroke="#333" stroke-width="0.15">B</text>
<line x1="225.90" y1="12.50" x2="225.90" y2="11.30" stroke="#333" stroke-width="0.5"/>
<text x="225.9" y="11.6" font-size="4.7" text-anchor="middle" fill="#222" stroke="#222" stroke-width="0.25">24</text>
<line x1="235.10" y1="12.50" x2="235.10" y2="11.30" stroke="#333" stroke-width="0.5"/>
<text x="235.1" y="11.6" font-size="4.7" text-anchor="middle" fill="#222" stroke="#222" stroke-width="0.25">23</text>
<line x1="243.50" y1="12.50" x2="243.50" y2="11.30" stroke="#333" stroke-width="0.5"/>
<text x="243.5" y="11.6" font-size="4.7" text-anchor="middle" fill="#222" stroke="#222" stroke-width="0.25">24</text>
<line x1="252.60" y1="12.50" x2="252.60" y2="11.30" stroke="#333" stroke-width="0.5"/>
<text x="252.6" y="11.6" font-size="4.7" text-anchor="middle" fill="#222" stroke="#222" stroke-width="0.25">24</text>
<line x1="262.30" y1="12.50" x2="262.30" y2="11.30" stroke="#333" stroke-width="0.5"/>
<text x="262.3" y="11.6" font-size="4.7" text-anchor="middle" fill="#222" stroke="#222" stroke-width="0.25">23</text>
<line x1="271.40" y1="12.50" x2="271.40" y2="11.30" stroke="#333" stroke-width="0.5"/>
<text x="271.4" y="11.6" font-size="4.7" text-anchor="middle" fill="#222" stroke="#222" stroke-width="0.25">22</text>
<line x1="281.20" y1="12.50" x2="281.20" y2="11.30" stroke="#333" stroke-width="0.5"/>
<text x="281.2" y="11.6" font-size="4.7" text-anchor="middle" fill="#222" stroke="#222" stroke-width="0.25">22</text>
<line x1="289.60" y1="12.50" x2="289.60" y2="11.30" stroke="#333" stroke-width="0.5"/>
<text x="289.6" y="11.6" font-size="4.7" text-anchor="middle" fill="#222" stroke="#222" stroke-width="0.25">23</text>
<line x1="296.60" y1="12.50" x2="296.60" y2="11.30" stroke="#333" stroke-width="0.5"/>
<text x="296.6" y="11.6" font-size="4.7" text-anchor="middle" fill="#222" stroke="#222" stroke-width="0.25">20</text>
<line x1="306.60" y1="12.50" x2="306.60" y2="11.30" stroke="#333" stroke-width="0.5"/>
<text x="306.6" y="11.6" font-size="4.7" text-anchor="middle" fill="#222" stroke="#222" stroke-width="0.25">18</text>
<line x1="315.90" y1="12.50" x2="315.90" y2="11.30" stroke="#333" stroke-width="0.5"/>
<text x="315.9" y="11.6" font-size="4.7" text-anchor="middle" fill="#222" stroke="#222" stroke-width="0.25">17</text>
<line x1="325.00" y1="12.50" x2="325.00" y2="11.30" stroke="#333" stroke-width="0.5"/>
<text x="325" y="11.6" font-size="4.7" text-anchor="middle" fill="#222" stroke="#222" stroke-width="0.25">16</text>
<line x1="335.00" y1="12.50" x2="335.00" y2="11.30" stroke="#333" stroke-width="0.5"/>
<text x="335" y="11.6" font-size="4.7" text-anchor="middle" fill="#222" stroke="#222" stroke-width="0.25">13</text>
<line x1="344.40" y1="12.50" x2="344.40" y2="11.30" stroke="#333" stroke-width="0.5"/>
<text x="344.4" y="11.6" font-size="4.7" text-anchor="middle" fill="#222" stroke="#222" stroke-width="0.25">7</text>
<line x1="350.60" y1="12.50" x2="350.60" y2="11.30" stroke="#333" stroke-width="0.5"/>
<text x="350.6" y="11.6" font-size="4.7" text-anchor="middle" fill="#222" stroke="#222" stroke-width="0.25">7</text>
<line x1="357.00" y1="12.50" x2="357.00" y2="11.30" stroke="#333" stroke-width="0.5"/>
<text x="357" y="11.6" font-size="4.7" text-anchor="middle" fill="#222" stroke="#222" stroke-width="0.25">4</text>
<line x1="362.70" y1="12.50" x2="362.70" y2="11.30" stroke="#333" stroke-width="0.5"/>
<text x="362.7" y="11.6" font-size="4.7" text-anchor="middle" fill="#222" stroke="#222" stroke-width="0.25">4</text>
<line x1="367.60" y1="12.50" x2="367.60" y2="11.30" stroke="#333" stroke-width="0.5"/>
<text x="367.6" y="11.6" font-size="4.7" text-anchor="middle" fill="#222" stroke="#222" stroke-width="0.25">3</text>
<line x1="375.90" y1="12.50" x2="375.90" y2="11.30" stroke="#333" stroke-width="0.5"/>
<text x="375.9" y="11.6" font-size="4.7" text-anchor="middle" fill="#222" stroke="#222" stroke-width="0.25">2</text>
<line x1="383.40" y1="12.50" x2="383.40" y2="11.30" stroke="#333" stroke-width="0.5"/>
<text x="383.4" y="11.6" font-size="4.7" text-anchor="middle" fill="#222" stroke="#222" stroke-width="0.25">1</text>
<line x1="247.50" y1="128.50" x2="247.50" y2="130.10" stroke="#333" stroke-width="0.6"/>
<text x="248.1" y="132.6" font-size="4.8" text-anchor="middle" fill="#222" stroke="#222" stroke-width="0.2">-5</text>
<line x1="280.25" y1="128.50" x2="280.25" y2="130.10" stroke="#333" stroke-width="0.6"/>
<text x="280.85" y="132.6" font-size="4.8" text-anchor="middle" fill="#222" stroke="#222" stroke-width="0.2">-4</text>
<line x1="313.00" y1="128.50" x2="313.00" y2="130.10" stroke="#333" stroke-width="0.6"/>
<text x="313.6" y="132.6" font-size="4.8" text-anchor="middle" fill="#222" stroke="#222" stroke-width="0.2">-3</text>
<line x1="345.75" y1="128.50" x2="345.75" y2="130.10" stroke="#333" stroke-width="0.6"/>
<text x="346.35" y="132.6" font-size="4.8" text-anchor="middle" fill="#222" stroke="#222" stroke-width="0.2">-2</text>
<line x1="378.50" y1="128.50" x2="378.50" y2="130.10" stroke="#333" stroke-width="0.6"/>
<text x="379.1" y="132.6" font-size="4.8" text-anchor="middle" fill="#222" stroke="#222" stroke-width="0.2">-1</text>
<line x1="219.50" y1="107.60" x2="217.90" y2="107.60" stroke="#333" stroke-width="0.6"/>
<text x="215.5" y="109.8" font-size="5.0" text-anchor="middle" fill="#222" stroke="#222" stroke-width="0.2" transform="rotate(-90 215.5 109.8)">9.5</text>
<line x1="219.50" y1="80.40" x2="217.90" y2="80.40" stroke="#333" stroke-width="0.6"/>
<text x="215.5" y="82.6" font-size="5.0" text-anchor="middle" fill="#222" stroke="#222" stroke-width="0.2" transform="rotate(-90 215.5 82.6)">10.0</text>
<line x1="219.50" y1="53.20" x2="217.90" y2="53.20" stroke="#333" stroke-width="0.6"/>
<text x="215.5" y="55.4" font-size="5.0" text-anchor="middle" fill="#222" stroke="#222" stroke-width="0.2" transform="rotate(-90 215.5 55.4)">10.5</text>
<line x1="219.50" y1="26.00" x2="217.90" y2="26.00" stroke="#333" stroke-width="0.6"/>
<text x="215.5" y="28.2" font-size="5.0" text-anchor="middle" fill="#222" stroke="#222" stroke-width="0.2" transform="rotate(-90 215.5 28.2)">11.0</text>
<text x="208.4" y="61" font-size="5.85" text-anchor="middle" fill="#222" stroke="#222" stroke-width="0.15" transform="rotate(-90 208.4 61)">Partial Likelihood Deviance</text>
<text x="299.4" y="142.9" font-size="5.8" text-anchor="middle" fill="#222" stroke="#222" stroke-width="0.2">log(Lambda)</text>
<line x1="341.60" y1="12.50" x2="341.60" y2="128.50" stroke="#a8a8a8" stroke-width="0.6"/>
<line x1="368.50" y1="12.50" x2="368.50" y2="128.50" stroke="#a8a8a8" stroke-width="0.6"/>
<line x1="225.60" y1="16.70" x2="225.60" y2="102.75" stroke="#acacac" stroke-width="0.6"/>
<line x1="224.30" y1="16.70" x2="226.90" y2="16.70" stroke="#acacac" stroke-width="0.55"/>
<line x1="224.30" y1="102.75" x2="226.90" y2="102.75" stroke="#acacac" stroke-width="0.55"/>
<line x1="228.65" y1="18.37" x2="228.65" y2="103.30" stroke="#acacac" stroke-width="0.6"/>
<line x1="227.35" y1="18.37" x2="229.95" y2="18.37" stroke="#acacac" stroke-width="0.55"/>
<line x1="227.35" y1="103.30" x2="229.95" y2="103.30" stroke="#acacac" stroke-width="0.55"/>
<line x1="231.69" y1="20.05" x2="231.69" y2="103.85" stroke="#acacac" stroke-width="0.6"/>
<line x1="230.39" y1="20.05" x2="232.99" y2="20.05" stroke="#acacac" stroke-width="0.55"/>
<line x1="230.39" y1="103.85" x2="232.99" y2="103.85" stroke="#acacac" stroke-width="0.55"/>
<line x1="234.74" y1="21.72" x2="234.74" y2="104.52" stroke="#acacac" stroke-width="0.6"/>
<line x1="233.44" y1="21.72" x2="236.04" y2="21.72" stroke="#acacac" stroke-width="0.55"/>
<line x1="233.44" y1="104.52" x2="236.04" y2="104.52" stroke="#acacac" stroke-width="0.55"/>
<line x1="237.78" y1="23.61" x2="237.78" y2="105.23" stroke="#acacac" stroke-width="0.6"/>
<line x1="236.48" y1="23.61" x2="239.08" y2="23.61" stroke="#acacac" stroke-width="0.55"/>
<line x1="236.48" y1="105.23" x2="239.08" y2="105.23" stroke="#acacac" stroke-width="0.55"/>
<line x1="240.83" y1="25.50" x2="240.83" y2="105.93" stroke="#acacac" stroke-width="0.6"/>
<line x1="239.53" y1="25.50" x2="242.13" y2="25.50" stroke="#acacac" stroke-width="0.55"/>
<line x1="239.53" y1="105.93" x2="242.13" y2="105.93" stroke="#acacac" stroke-width="0.55"/>
<line x1="243.88" y1="27.39" x2="243.88" y2="106.64" stroke="#acacac" stroke-width="0.6"/>
<line x1="242.58" y1="27.39" x2="245.18" y2="27.39" stroke="#acacac" stroke-width="0.55"/>
<line x1="242.58" y1="106.64" x2="245.18" y2="106.64" stroke="#acacac" stroke-width="0.55"/>
<line x1="246.92" y1="29.46" x2="246.92" y2="107.67" stroke="#acacac" stroke-width="0.6"/>
<line x1="245.62" y1="29.46" x2="248.22" y2="29.46" stroke="#acacac" stroke-width="0.55"/>
<line x1="245.62" y1="107.67" x2="248.22" y2="107.67" stroke="#acacac" stroke-width="0.55"/>
<line x1="249.97" y1="31.53" x2="249.97" y2="108.89" stroke="#acacac" stroke-width="0.6"/>
<line x1="248.67" y1="31.53" x2="251.27" y2="31.53" stroke="#acacac" stroke-width="0.55"/>
<line x1="248.67" y1="108.89" x2="251.27" y2="108.89" stroke="#acacac" stroke-width="0.55"/>
<line x1="253.01" y1="33.61" x2="253.01" y2="110.11" stroke="#acacac" stroke-width="0.6"/>
<line x1="251.71" y1="33.61" x2="254.31" y2="33.61" stroke="#acacac" stroke-width="0.55"/>
<line x1="251.71" y1="110.11" x2="254.31" y2="110.11" stroke="#acacac" stroke-width="0.55"/>
<line x1="256.06" y1="35.83" x2="256.06" y2="111.32" stroke="#acacac" stroke-width="0.6"/>
<line x1="254.76" y1="35.83" x2="257.36" y2="35.83" stroke="#acacac" stroke-width="0.55"/>
<line x1="254.76" y1="111.32" x2="257.36" y2="111.32" stroke="#acacac" stroke-width="0.55"/>
<line x1="259.11" y1="38.05" x2="259.11" y2="112.38" stroke="#acacac" stroke-width="0.6"/>
<line x1="257.81" y1="38.05" x2="260.41" y2="38.05" stroke="#acacac" stroke-width="0.55"/>
<line x1="257.81" y1="112.38" x2="260.41" y2="112.38" stroke="#acacac" stroke-width="0.55"/>
<line x1="262.15" y1="40.28" x2="262.15" y2="113.28" stroke="#acacac" stroke-width="0.6"/>
<line x1="260.85" y1="40.28" x2="263.45" y2="40.28" stroke="#acacac" stroke-width="0.55"/>
<line x1="260.85" y1="113.28" x2="263.45" y2="113.28" stroke="#acacac" stroke-width="0.55"/>
<line x1="265.20" y1="42.50" x2="265.20" y2="114.18" stroke="#acacac" stroke-width="0.6"/>
<line x1="263.90" y1="42.50" x2="266.50" y2="42.50" stroke="#acacac" stroke-width="0.55"/>
<line x1="263.90" y1="114.18" x2="266.50" y2="114.18" stroke="#acacac" stroke-width="0.55"/>
<line x1="268.24" y1="45.14" x2="268.24" y2="115.08" stroke="#acacac" stroke-width="0.6"/>
<line x1="266.94" y1="45.14" x2="269.54" y2="45.14" stroke="#acacac" stroke-width="0.55"/>
<line x1="266.94" y1="115.08" x2="269.54" y2="115.08" stroke="#acacac" stroke-width="0.55"/>
<line x1="271.29" y1="47.78" x2="271.29" y2="116.03" stroke="#acacac" stroke-width="0.6"/>
<line x1="269.99" y1="47.78" x2="272.59" y2="47.78" stroke="#acacac" stroke-width="0.55"/>
<line x1="269.99" y1="116.03" x2="272.59" y2="116.03" stroke="#acacac" stroke-width="0.55"/>
<line x1="274.34" y1="50.43" x2="274.34" y2="117.05" stroke="#acacac" stroke-width="0.6"/>
<line x1="273.04" y1="50.43" x2="275.64" y2="50.43" stroke="#acacac" stroke-width="0.55"/>
<line x1="273.04" y1="117.05" x2="275.64" y2="117.05" stroke="#acacac" stroke-width="0.55"/>
<line x1="277.38" y1="53.06" x2="277.38" y2="118.06" stroke="#acacac" stroke-width="0.6"/>
<line x1="276.08" y1="53.06" x2="278.68" y2="53.06" stroke="#acacac" stroke-width="0.55"/>
<line x1="276.08" y1="118.06" x2="278.68" y2="118.06" stroke="#acacac" stroke-width="0.55"/>
<line x1="280.43" y1="55.46" x2="280.43" y2="118.84" stroke="#acacac" stroke-width="0.6"/>
<line x1="279.13" y1="55.46" x2="281.73" y2="55.46" stroke="#acacac" stroke-width="0.55"/>
<line x1="279.13" y1="118.84" x2="281.73" y2="118.84" stroke="#acacac" stroke-width="0.55"/>
<line x1="283.47" y1="57.86" x2="283.47" y2="119.61" stroke="#acacac" stroke-width="0.6"/>
<line x1="282.17" y1="57.86" x2="284.77" y2="57.86" stroke="#acacac" stroke-width="0.55"/>
<line x1="282.17" y1="119.61" x2="284.77" y2="119.61" stroke="#acacac" stroke-width="0.55"/>
<line x1="286.52" y1="60.26" x2="286.52" y2="120.37" stroke="#acacac" stroke-width="0.6"/>
<line x1="285.22" y1="60.26" x2="287.82" y2="60.26" stroke="#acacac" stroke-width="0.55"/>
<line x1="285.22" y1="120.37" x2="287.82" y2="120.37" stroke="#acacac" stroke-width="0.55"/>
<line x1="289.57" y1="62.42" x2="289.57" y2="121.14" stroke="#acacac" stroke-width="0.6"/>
<line x1="288.27" y1="62.42" x2="290.87" y2="62.42" stroke="#acacac" stroke-width="0.55"/>
<line x1="288.27" y1="121.14" x2="290.87" y2="121.14" stroke="#acacac" stroke-width="0.55"/>
<line x1="292.61" y1="64.56" x2="292.61" y2="121.64" stroke="#acacac" stroke-width="0.6"/>
<line x1="291.31" y1="64.56" x2="293.91" y2="64.56" stroke="#acacac" stroke-width="0.55"/>
<line x1="291.31" y1="121.64" x2="293.91" y2="121.64" stroke="#acacac" stroke-width="0.55"/>
<line x1="295.66" y1="66.70" x2="295.66" y2="122.09" stroke="#acacac" stroke-width="0.6"/>
<line x1="294.36" y1="66.70" x2="296.96" y2="66.70" stroke="#acacac" stroke-width="0.55"/>
<line x1="294.36" y1="122.09" x2="296.96" y2="122.09" stroke="#acacac" stroke-width="0.55"/>
<line x1="298.70" y1="68.86" x2="298.70" y2="122.54" stroke="#acacac" stroke-width="0.6"/>
<line x1="297.40" y1="68.86" x2="300.00" y2="68.86" stroke="#acacac" stroke-width="0.55"/>
<line x1="297.40" y1="122.54" x2="300.00" y2="122.54" stroke="#acacac" stroke-width="0.55"/>
<line x1="301.75" y1="71.23" x2="301.75" y2="122.99" stroke="#acacac" stroke-width="0.6"/>
<line x1="300.45" y1="71.23" x2="303.05" y2="71.23" stroke="#acacac" stroke-width="0.55"/>
<line x1="300.45" y1="122.99" x2="303.05" y2="122.99" stroke="#acacac" stroke-width="0.55"/>
<line x1="304.80" y1="73.60" x2="304.80" y2="123.22" stroke="#acacac" stroke-width="0.6"/>
<line x1="303.50" y1="73.60" x2="306.10" y2="73.60" stroke="#acacac" stroke-width="0.55"/>
<line x1="303.50" y1="123.22" x2="306.10" y2="123.22" stroke="#acacac" stroke-width="0.55"/>
<line x1="307.84" y1="75.97" x2="307.84" y2="123.38" stroke="#acacac" stroke-width="0.6"/>
<line x1="306.54" y1="75.97" x2="309.14" y2="75.97" stroke="#acacac" stroke-width="0.55"/>
<line x1="306.54" y1="123.38" x2="309.14" y2="123.38" stroke="#acacac" stroke-width="0.55"/>
<line x1="310.89" y1="78.24" x2="310.89" y2="123.54" stroke="#acacac" stroke-width="0.6"/>
<line x1="309.59" y1="78.24" x2="312.19" y2="78.24" stroke="#acacac" stroke-width="0.55"/>
<line x1="309.59" y1="123.54" x2="312.19" y2="123.54" stroke="#acacac" stroke-width="0.55"/>
<line x1="313.93" y1="80.18" x2="313.93" y2="123.69" stroke="#acacac" stroke-width="0.6"/>
<line x1="312.63" y1="80.18" x2="315.23" y2="80.18" stroke="#acacac" stroke-width="0.55"/>
<line x1="312.63" y1="123.69" x2="315.23" y2="123.69" stroke="#acacac" stroke-width="0.55"/>
<line x1="316.98" y1="82.11" x2="316.98" y2="123.60" stroke="#acacac" stroke-width="0.6"/>
<line x1="315.68" y1="82.11" x2="318.28" y2="82.11" stroke="#acacac" stroke-width="0.55"/>
<line x1="315.68" y1="123.60" x2="318.28" y2="123.60" stroke="#acacac" stroke-width="0.55"/>
<line x1="320.03" y1="83.92" x2="320.03" y2="123.38" stroke="#acacac" stroke-width="0.6"/>
<line x1="318.73" y1="83.92" x2="321.33" y2="83.92" stroke="#acacac" stroke-width="0.55"/>
<line x1="318.73" y1="123.38" x2="321.33" y2="123.38" stroke="#acacac" stroke-width="0.55"/>
<line x1="323.07" y1="85.47" x2="323.07" y2="123.16" stroke="#acacac" stroke-width="0.6"/>
<line x1="321.77" y1="85.47" x2="324.37" y2="85.47" stroke="#acacac" stroke-width="0.55"/>
<line x1="321.77" y1="123.16" x2="324.37" y2="123.16" stroke="#acacac" stroke-width="0.55"/>
<line x1="326.12" y1="87.01" x2="326.12" y2="122.93" stroke="#acacac" stroke-width="0.6"/>
<line x1="324.82" y1="87.01" x2="327.42" y2="87.01" stroke="#acacac" stroke-width="0.55"/>
<line x1="324.82" y1="122.93" x2="327.42" y2="122.93" stroke="#acacac" stroke-width="0.55"/>
<line x1="329.16" y1="88.56" x2="329.16" y2="122.71" stroke="#acacac" stroke-width="0.6"/>
<line x1="327.86" y1="88.56" x2="330.46" y2="88.56" stroke="#acacac" stroke-width="0.55"/>
<line x1="327.86" y1="122.71" x2="330.46" y2="122.71" stroke="#acacac" stroke-width="0.55"/>
<line x1="332.21" y1="90.08" x2="332.21" y2="122.47" stroke="#acacac" stroke-width="0.6"/>
<line x1="330.91" y1="90.08" x2="333.51" y2="90.08" stroke="#acacac" stroke-width="0.55"/>
<line x1="330.91" y1="122.47" x2="333.51" y2="122.47" stroke="#acacac" stroke-width="0.55"/>
<line x1="335.26" y1="91.22" x2="335.26" y2="122.00" stroke="#acacac" stroke-width="0.6"/>
<line x1="333.96" y1="91.22" x2="336.56" y2="91.22" stroke="#acacac" stroke-width="0.55"/>
<line x1="333.96" y1="122.00" x2="336.56" y2="122.00" stroke="#acacac" stroke-width="0.55"/>
<line x1="338.30" y1="92.36" x2="338.30" y2="121.53" stroke="#acacac" stroke-width="0.6"/>
<line x1="337.00" y1="92.36" x2="339.60" y2="92.36" stroke="#acacac" stroke-width="0.55"/>
<line x1="337.00" y1="121.53" x2="339.60" y2="121.53" stroke="#acacac" stroke-width="0.55"/>
<line x1="341.35" y1="93.51" x2="341.35" y2="121.06" stroke="#acacac" stroke-width="0.6"/>
<line x1="340.05" y1="93.51" x2="342.65" y2="93.51" stroke="#acacac" stroke-width="0.55"/>
<line x1="340.05" y1="121.06" x2="342.65" y2="121.06" stroke="#acacac" stroke-width="0.55"/>
<line x1="344.39" y1="94.37" x2="344.39" y2="120.59" stroke="#acacac" stroke-width="0.6"/>
<line x1="343.09" y1="94.37" x2="345.69" y2="94.37" stroke="#acacac" stroke-width="0.55"/>
<line x1="343.09" y1="120.59" x2="345.69" y2="120.59" stroke="#acacac" stroke-width="0.55"/>
<line x1="347.44" y1="93.35" x2="347.44" y2="119.06" stroke="#acacac" stroke-width="0.6"/>
<line x1="346.14" y1="93.35" x2="348.74" y2="93.35" stroke="#acacac" stroke-width="0.55"/>
<line x1="346.14" y1="119.06" x2="348.74" y2="119.06" stroke="#acacac" stroke-width="0.55"/>
<line x1="350.49" y1="92.34" x2="350.49" y2="117.26" stroke="#acacac" stroke-width="0.6"/>
<line x1="349.19" y1="92.34" x2="351.79" y2="92.34" stroke="#acacac" stroke-width="0.55"/>
<line x1="349.19" y1="117.26" x2="351.79" y2="117.26" stroke="#acacac" stroke-width="0.55"/>
<line x1="353.53" y1="91.32" x2="353.53" y2="115.46" stroke="#acacac" stroke-width="0.6"/>
<line x1="352.23" y1="91.32" x2="354.83" y2="91.32" stroke="#acacac" stroke-width="0.55"/>
<line x1="352.23" y1="115.46" x2="354.83" y2="115.46" stroke="#acacac" stroke-width="0.55"/>
<line x1="356.58" y1="90.17" x2="356.58" y2="113.66" stroke="#acacac" stroke-width="0.6"/>
<line x1="355.28" y1="90.17" x2="357.88" y2="90.17" stroke="#acacac" stroke-width="0.55"/>
<line x1="355.28" y1="113.66" x2="357.88" y2="113.66" stroke="#acacac" stroke-width="0.55"/>
<line x1="359.62" y1="88.45" x2="359.62" y2="111.89" stroke="#acacac" stroke-width="0.6"/>
<line x1="358.32" y1="88.45" x2="360.92" y2="88.45" stroke="#acacac" stroke-width="0.55"/>
<line x1="358.32" y1="111.89" x2="360.92" y2="111.89" stroke="#acacac" stroke-width="0.55"/>
<line x1="362.67" y1="86.72" x2="362.67" y2="110.11" stroke="#acacac" stroke-width="0.6"/>
<line x1="361.37" y1="86.72" x2="363.97" y2="86.72" stroke="#acacac" stroke-width="0.55"/>
<line x1="361.37" y1="110.11" x2="363.97" y2="110.11" stroke="#acacac" stroke-width="0.55"/>
<line x1="365.72" y1="84.99" x2="365.72" y2="108.33" stroke="#acacac" stroke-width="0.6"/>
<line x1="364.42" y1="84.99" x2="367.02" y2="84.99" stroke="#acacac" stroke-width="0.55"/>
<line x1="364.42" y1="108.33" x2="367.02" y2="108.33" stroke="#acacac" stroke-width="0.55"/>
<line x1="368.76" y1="82.67" x2="368.76" y2="105.86" stroke="#acacac" stroke-width="0.6"/>
<line x1="367.46" y1="82.67" x2="370.06" y2="82.67" stroke="#acacac" stroke-width="0.55"/>
<line x1="367.46" y1="105.86" x2="370.06" y2="105.86" stroke="#acacac" stroke-width="0.55"/>
<line x1="371.81" y1="78.56" x2="371.81" y2="101.29" stroke="#acacac" stroke-width="0.6"/>
<line x1="370.51" y1="78.56" x2="373.11" y2="78.56" stroke="#acacac" stroke-width="0.55"/>
<line x1="370.51" y1="101.29" x2="373.11" y2="101.29" stroke="#acacac" stroke-width="0.55"/>
<line x1="374.85" y1="74.83" x2="374.85" y2="97.27" stroke="#acacac" stroke-width="0.6"/>
<line x1="373.55" y1="74.83" x2="376.15" y2="74.83" stroke="#acacac" stroke-width="0.55"/>
<line x1="373.55" y1="97.27" x2="376.15" y2="97.27" stroke="#acacac" stroke-width="0.55"/>
<line x1="377.90" y1="72.09" x2="377.90" y2="94.66" stroke="#acacac" stroke-width="0.6"/>
<line x1="376.60" y1="72.09" x2="379.20" y2="72.09" stroke="#acacac" stroke-width="0.55"/>
<line x1="376.60" y1="94.66" x2="379.20" y2="94.66" stroke="#acacac" stroke-width="0.55"/>
<line x1="380.95" y1="68.19" x2="380.95" y2="92.05" stroke="#acacac" stroke-width="0.6"/>
<line x1="379.65" y1="68.19" x2="382.25" y2="68.19" stroke="#acacac" stroke-width="0.55"/>
<line x1="379.65" y1="92.05" x2="382.25" y2="92.05" stroke="#acacac" stroke-width="0.55"/>
<line x1="383.99" y1="64.26" x2="383.99" y2="89.44" stroke="#acacac" stroke-width="0.6"/>
<line x1="382.69" y1="64.26" x2="385.29" y2="64.26" stroke="#acacac" stroke-width="0.55"/>
<line x1="382.69" y1="89.44" x2="385.29" y2="89.44" stroke="#acacac" stroke-width="0.55"/>
<circle cx="225.60" cy="59.00" r="0.8" fill="#c8283c"/>
<circle cx="228.65" cy="60.25" r="0.8" fill="#c8283c"/>
<circle cx="231.69" cy="61.50" r="0.8" fill="#c8283c"/>
<circle cx="234.74" cy="62.75" r="0.8" fill="#c8283c"/>
<circle cx="237.78" cy="63.99" r="0.8" fill="#c8283c"/>
<circle cx="240.83" cy="65.24" r="0.8" fill="#c8283c"/>
<circle cx="243.88" cy="66.49" r="0.8" fill="#c8283c"/>
<circle cx="246.92" cy="67.74" r="0.8" fill="#c8283c"/>
<circle cx="249.97" cy="68.99" r="0.8" fill="#c8283c"/>
<circle cx="253.01" cy="70.81" r="0.8" fill="#c8283c"/>
<circle cx="256.06" cy="72.64" r="0.8" fill="#c8283c"/>
<circle cx="259.11" cy="74.46" r="0.8" fill="#c8283c"/>
<circle cx="262.15" cy="76.29" r="0.8" fill="#c8283c"/>
<circle cx="265.20" cy="78.12" r="0.8" fill="#c8283c"/>
<circle cx="268.24" cy="79.95" r="0.8" fill="#c8283c"/>
<circle cx="271.29" cy="81.58" r="0.8" fill="#c8283c"/>
<circle cx="274.34" cy="82.95" r="0.8" fill="#c8283c"/>
<circle cx="277.38" cy="84.32" r="0.8" fill="#c8283c"/>
<circle cx="280.43" cy="85.69" r="0.8" fill="#c8283c"/>
<circle cx="283.47" cy="87.06" r="0.8" fill="#c8283c"/>
<circle cx="286.52" cy="88.43" r="0.8" fill="#c8283c"/>
<circle cx="289.57" cy="89.80" r="0.8" fill="#c8283c"/>
<circle cx="292.61" cy="91.81" r="0.8" fill="#c8283c"/>
<circle cx="295.66" cy="93.92" r="0.8" fill="#c8283c"/>
<circle cx="298.70" cy="95.67" r="0.8" fill="#c8283c"/>
<circle cx="301.75" cy="96.84" r="0.8" fill="#c8283c"/>
<circle cx="304.80" cy="98.02" r="0.8" fill="#c8283c"/>
<circle cx="307.84" cy="99.12" r="0.8" fill="#c8283c"/>
<circle cx="310.89" cy="100.22" r="0.8" fill="#c8283c"/>
<circle cx="313.93" cy="101.30" r="0.8" fill="#c8283c"/>
<circle cx="316.98" cy="102.06" r="0.8" fill="#c8283c"/>
<circle cx="320.03" cy="102.81" r="0.8" fill="#c8283c"/>
<circle cx="323.07" cy="103.57" r="0.8" fill="#c8283c"/>
<circle cx="326.12" cy="104.33" r="0.8" fill="#c8283c"/>
<circle cx="329.16" cy="105.09" r="0.8" fill="#c8283c"/>
<circle cx="332.21" cy="105.85" r="0.8" fill="#c8283c"/>
<circle cx="335.26" cy="106.56" r="0.8" fill="#c8283c"/>
<circle cx="338.30" cy="107.20" r="0.8" fill="#c8283c"/>
<circle cx="341.35" cy="107.20" r="0.8" fill="#c8283c"/>
<circle cx="344.39" cy="107.16" r="0.8" fill="#c8283c"/>
<circle cx="347.44" cy="106.86" r="0.8" fill="#c8283c"/>
<circle cx="350.49" cy="106.37" r="0.8" fill="#c8283c"/>
<circle cx="353.53" cy="104.89" r="0.8" fill="#c8283c"/>
<circle cx="356.58" cy="103.35" r="0.8" fill="#c8283c"/>
<circle cx="359.62" cy="101.53" r="0.8" fill="#c8283c"/>
<circle cx="362.67" cy="99.43" r="0.8" fill="#c8283c"/>
<circle cx="365.72" cy="96.38" r="0.8" fill="#c8283c"/>
<circle cx="368.76" cy="93.21" r="0.8" fill="#c8283c"/>
<circle cx="371.81" cy="89.66" r="0.8" fill="#c8283c"/>
<circle cx="374.85" cy="86.54" r="0.8" fill="#c8283c"/>
<circle cx="377.90" cy="84.57" r="0.8" fill="#c8283c"/>
<circle cx="380.95" cy="80.08" r="0.8" fill="#c8283c"/>
<circle cx="383.99" cy="76.32" r="0.8" fill="#c8283c"/>
<rect x="219.5" y="12.5" width="171.00" height="116.00" fill="none" stroke="#3a3a3a" stroke-width="0.95"/>
<text x="-0.9" y="152.2" font-size="7.0" text-anchor="start" fill="#333" stroke="#333" stroke-width="0.15">C</text>
<rect x="0.7" y="154.5" width="184.9" height="143.6" fill="none" stroke="#686868" stroke-width="1.3"/>
<text transform="translate(6.00,164.00) scale(0.93,1)" font-size="5.0" text-anchor="start" fill="#222" font-weight="bold" stroke="#222" stroke-width="0.1">Risk factors</text>
<text transform="translate(61.70,164.00) scale(0.93,1)" font-size="5.0" text-anchor="start" fill="#222" font-weight="bold" stroke="#222" stroke-width="0.1">HR</text>
<text transform="translate(78.80,164.00) scale(0.93,1)" font-size="5.0" text-anchor="start" fill="#222" font-weight="bold" stroke="#222" stroke-width="0.1">95%CI</text>
<text transform="translate(117.50,164.00) scale(0.93,1)" font-size="5.0" text-anchor="start" fill="#222" font-weight="bold" stroke="#222" stroke-width="0.1">P value</text>
<text transform="translate(6.00,177.20) scale(0.9,1)" font-size="5.1" text-anchor="start" fill="#222" stroke="#222" stroke-width="0.13">Age (years)</text>
<text transform="translate(61.70,177.20) scale(0.9,1)" font-size="5.1" text-anchor="start" fill="#222" stroke="#222" stroke-width="0.13">1.63</text>
<text transform="translate(78.60,177.20) scale(0.87,1)" font-size="5.1" text-anchor="start" fill="#222" stroke="#222" stroke-width="0.13">(0.94-2.81)</text>
<text transform="translate(117.50,177.20) scale(0.9,1)" font-size="5.1" text-anchor="start" fill="#222" stroke="#222" stroke-width="0.13">0.079</text>
<text transform="translate(6.00,189.70) scale(0.9,1)" font-size="5.1" text-anchor="start" fill="#222" stroke="#222" stroke-width="0.13">Tumor size (cm)</text>
<text transform="translate(61.70,189.70) scale(0.9,1)" font-size="5.1" text-anchor="start" fill="#222" stroke="#222" stroke-width="0.13">1.11</text>
<text transform="translate(78.60,189.70) scale(0.87,1)" font-size="5.1" text-anchor="start" fill="#222" stroke="#222" stroke-width="0.13">(0.96-1.28)</text>
<text transform="translate(117.50,189.70) scale(0.9,1)" font-size="5.1" text-anchor="start" fill="#222" stroke="#222" stroke-width="0.13">0.156</text>
<text transform="translate(6.00,199.90) scale(0.9,1)" font-size="5.1" text-anchor="start" fill="#222" stroke="#222" stroke-width="0.13">CA19-9</text>
<text transform="translate(6.00,204.90) scale(0.9,1)" font-size="5.1" text-anchor="start" fill="#222" stroke="#222" stroke-width="0.13">(≥37 vs. &lt;37 U/ML)</text>
<text transform="translate(61.70,202.70) scale(0.9,1)" font-size="5.1" text-anchor="start" fill="#222" stroke="#222" stroke-width="0.13">2.10</text>
<text transform="translate(78.60,202.70) scale(0.87,1)" font-size="5.1" text-anchor="start" fill="#222" stroke="#222" stroke-width="0.13">(1.21-3.65)</text>
<text transform="translate(117.50,202.70) scale(0.9,1)" font-size="5.1" text-anchor="start" fill="#222" stroke="#222" stroke-width="0.13">0.009</text>
<text transform="translate(6.00,212.70) scale(0.9,1)" font-size="5.1" text-anchor="start" fill="#222" stroke="#222" stroke-width="0.13">Diabetes</text>
<text transform="translate(6.00,217.70) scale(0.9,1)" font-size="5.1" text-anchor="start" fill="#222" stroke="#222" stroke-width="0.13">(yes vs. no)</text>
<text transform="translate(61.70,215.60) scale(0.9,1)" font-size="5.1" text-anchor="start" fill="#222" stroke="#222" stroke-width="0.13">1.24</text>
<text transform="translate(78.60,215.60) scale(0.87,1)" font-size="5.1" text-anchor="start" fill="#222" stroke="#222" stroke-width="0.13">(0.64-2.41)</text>
<text transform="translate(117.50,215.60) scale(0.9,1)" font-size="5.1" text-anchor="start" fill="#222" stroke="#222" stroke-width="0.13">0.516</text>
<text transform="translate(6.00,225.30) scale(0.9,1)" font-size="5.1" text-anchor="start" fill="#222" stroke="#222" stroke-width="0.13">Stage</text>
<text transform="translate(6.00,230.30) scale(0.9,1)" font-size="5.1" text-anchor="start" fill="#222" stroke="#222" stroke-width="0.13">(SII+III vs. I+IIA)</text>
<text transform="translate(61.70,228.70) scale(0.9,1)" font-size="5.1" text-anchor="start" fill="#222" stroke="#222" stroke-width="0.13">3.10</text>
<text transform="translate(78.60,228.70) scale(0.87,1)" font-size="5.1" text-anchor="start" fill="#222" stroke="#222" stroke-width="0.13">(1.70-5.67)</text>
<text transform="translate(117.50,228.70) scale(0.9,1)" font-size="5.1" text-anchor="start" fill="#222" stroke="#222" stroke-width="0.13">0.001</text>
<text transform="translate(6.00,237.30) scale(0.9,1)" font-size="5.1" text-anchor="start" fill="#222" stroke="#222" stroke-width="0.13">Differentiation</text>
<text transform="translate(6.00,242.00) scale(0.9,1)" font-size="5.1" text-anchor="start" fill="#222" stroke="#222" stroke-width="0.13">(poorly and moderately</text>
<text transform="translate(6.00,246.70) scale(0.9,1)" font-size="5.1" text-anchor="start" fill="#222" stroke="#222" stroke-width="0.13">vs. well)</text>
<text transform="translate(61.70,241.70) scale(0.9,1)" font-size="5.1" text-anchor="start" fill="#222" stroke="#222" stroke-width="0.13">1.27</text>
<text transform="translate(78.60,241.70) scale(0.87,1)" font-size="5.1" text-anchor="start" fill="#222" stroke="#222" stroke-width="0.13">(0.74-2.21)</text>
<text transform="translate(117.50,241.70) scale(0.9,1)" font-size="5.1" text-anchor="start" fill="#222" stroke="#222" stroke-width="0.13">0.388</text>
<text transform="translate(6.00,254.80) scale(0.9,1)" font-size="5.1" text-anchor="start" fill="#222" stroke="#222" stroke-width="0.13">Lymphocyte (10⁹/L)</text>
<text transform="translate(61.70,254.70) scale(0.9,1)" font-size="5.1" text-anchor="start" fill="#222" stroke="#222" stroke-width="0.13">0.45</text>
<text transform="translate(78.60,254.70) scale(0.87,1)" font-size="5.1" text-anchor="start" fill="#222" stroke="#222" stroke-width="0.13">(0.24-0.84)</text>
<text transform="translate(117.50,254.70) scale(0.9,1)" font-size="5.1" text-anchor="start" fill="#222" stroke="#222" stroke-width="0.13">0.013</text>
<text transform="translate(6.00,268.70) scale(0.9,1)" font-size="5.1" text-anchor="start" fill="#222" stroke="#222" stroke-width="0.13">Albumin (g/L)</text>
<text transform="translate(61.70,267.80) scale(0.9,1)" font-size="5.1" text-anchor="start" fill="#222" stroke="#222" stroke-width="0.13">0.91</text>
<text transform="translate(78.60,267.80) scale(0.87,1)" font-size="5.1" text-anchor="start" fill="#222" stroke="#222" stroke-width="0.13">(0.86-0.97)</text>
<text transform="translate(117.50,267.80) scale(0.9,1)" font-size="5.1" text-anchor="start" fill="#222" stroke="#222" stroke-width="0.13">0.002</text>
<text transform="translate(6.00,279.20) scale(0.9,1)" font-size="5.1" text-anchor="start" fill="#222" stroke="#222" stroke-width="0.13">Chemotherapy</text>
<text transform="translate(6.00,284.70) scale(0.9,1)" font-size="5.1" text-anchor="start" fill="#222" stroke="#222" stroke-width="0.13">(yes vs. no)</text>
<text transform="translate(61.70,280.80) scale(0.9,1)" font-size="5.1" text-anchor="start" fill="#222" stroke="#222" stroke-width="0.13">0.43</text>
<text transform="translate(78.60,280.80) scale(0.87,1)" font-size="5.1" text-anchor="start" fill="#222" stroke="#222" stroke-width="0.13">(0.21-0.87)</text>
<text transform="translate(117.50,280.80) scale(0.9,1)" font-size="5.1" text-anchor="start" fill="#222" stroke="#222" stroke-width="0.13">0.019</text>
<line x1="159.65" y1="169.00" x2="159.65" y2="287.50" stroke="#c8b0d0" stroke-width="0.7"/>
<line x1="157.28" y1="175.50" x2="170.47" y2="175.50" stroke="#b84a74" stroke-width="0.8"/>
<line x1="157.28" y1="174.60" x2="157.28" y2="176.40" stroke="#b84a74" stroke-width="0.6"/>
<line x1="170.47" y1="174.60" x2="170.47" y2="176.40" stroke="#b84a74" stroke-width="0.6"/>
<circle cx="165.71" cy="175.50" r="1.2" fill="#2a2070"/>
<line x1="157.52" y1="188.50" x2="161.28" y2="188.50" stroke="#b84a74" stroke-width="0.8"/>
<line x1="157.52" y1="187.60" x2="157.52" y2="189.40" stroke="#b84a74" stroke-width="0.6"/>
<line x1="161.28" y1="187.60" x2="161.28" y2="189.40" stroke="#b84a74" stroke-width="0.6"/>
<circle cx="161.22" cy="188.50" r="1.2" fill="#2a2070"/>
<line x1="160.23" y1="201.50" x2="173.53" y2="201.50" stroke="#b84a74" stroke-width="0.8"/>
<line x1="160.23" y1="200.60" x2="160.23" y2="202.40" stroke="#b84a74" stroke-width="0.6"/>
<line x1="173.53" y1="200.60" x2="173.53" y2="202.40" stroke="#b84a74" stroke-width="0.6"/>
<circle cx="168.67" cy="201.50" r="1.2" fill="#2a2070"/>
<line x1="152.78" y1="214.50" x2="168.68" y2="214.50" stroke="#b84a74" stroke-width="0.8"/>
<line x1="152.78" y1="213.60" x2="152.78" y2="215.40" stroke="#b84a74" stroke-width="0.6"/>
<line x1="168.68" y1="213.60" x2="168.68" y2="215.40" stroke="#b84a74" stroke-width="0.6"/>
<circle cx="162.51" cy="214.50" r="1.2" fill="#2a2070"/>
<line x1="164.20" y1="227.50" x2="178.68" y2="227.50" stroke="#b84a74" stroke-width="0.8"/>
<line x1="164.20" y1="226.60" x2="164.20" y2="228.40" stroke="#b84a74" stroke-width="0.6"/>
<line x1="178.68" y1="226.60" x2="178.68" y2="228.40" stroke="#b84a74" stroke-width="0.6"/>
<circle cx="173.22" cy="227.50" r="1.2" fill="#2a2070"/>
<line x1="154.48" y1="240.50" x2="167.67" y2="240.50" stroke="#b84a74" stroke-width="0.8"/>
<line x1="154.48" y1="239.60" x2="154.48" y2="241.40" stroke="#b84a74" stroke-width="0.6"/>
<line x1="167.67" y1="239.60" x2="167.67" y2="241.40" stroke="#b84a74" stroke-width="0.6"/>
<circle cx="162.79" cy="240.50" r="1.2" fill="#2a2070"/>
<line x1="141.32" y1="253.50" x2="156.36" y2="253.50" stroke="#b84a74" stroke-width="0.8"/>
<line x1="141.32" y1="252.60" x2="141.32" y2="254.40" stroke="#b84a74" stroke-width="0.6"/>
<line x1="156.36" y1="252.60" x2="156.36" y2="254.40" stroke="#b84a74" stroke-width="0.6"/>
<circle cx="150.67" cy="253.50" r="1.2" fill="#2a2070"/>
<line x1="156.24" y1="266.50" x2="158.04" y2="266.50" stroke="#b84a74" stroke-width="0.8"/>
<line x1="156.24" y1="265.60" x2="156.24" y2="267.40" stroke="#b84a74" stroke-width="0.6"/>
<line x1="158.04" y1="265.60" x2="158.04" y2="267.40" stroke="#b84a74" stroke-width="0.6"/>
<circle cx="158.90" cy="266.50" r="1.2" fill="#2a2070"/>
<line x1="139.76" y1="279.50" x2="156.77" y2="279.50" stroke="#b84a74" stroke-width="0.8"/>
<line x1="139.76" y1="278.60" x2="139.76" y2="280.40" stroke="#b84a74" stroke-width="0.6"/>
<line x1="156.77" y1="278.60" x2="156.77" y2="280.40" stroke="#b84a74" stroke-width="0.6"/>
<circle cx="150.14" cy="279.50" r="1.2" fill="#2a2070"/>
<line x1="136.60" y1="287.50" x2="182.60" y2="287.50" stroke="#333" stroke-width="0.7"/>
<line x1="136.60" y1="287.50" x2="136.60" y2="289.20" stroke="#333" stroke-width="0.5"/>
<line x1="144.30" y1="287.50" x2="144.30" y2="289.20" stroke="#333" stroke-width="0.5"/>
<line x1="152.00" y1="287.50" x2="152.00" y2="289.20" stroke="#333" stroke-width="0.5"/>
<line x1="159.70" y1="287.50" x2="159.70" y2="289.20" stroke="#333" stroke-width="0.5"/>
<line x1="167.40" y1="287.50" x2="167.40" y2="289.20" stroke="#333" stroke-width="0.5"/>
<line x1="175.10" y1="287.50" x2="175.10" y2="289.20" stroke="#333" stroke-width="0.5"/>
<line x1="182.60" y1="287.50" x2="182.60" y2="289.20" stroke="#333" stroke-width="0.5"/>
<text transform="translate(138.60,295.00) scale(0.85,1)" font-size="4.2" text-anchor="middle" fill="#222" stroke="#222" stroke-width="0.08">0.125</text>
<text transform="translate(152.10,295.00) scale(0.85,1)" font-size="4.2" text-anchor="middle" fill="#222" stroke="#222" stroke-width="0.08">0.5</text>
<text transform="translate(159.70,295.00) scale(0.85,1)" font-size="4.2" text-anchor="middle" fill="#222" stroke="#222" stroke-width="0.08">1</text>
<text transform="translate(166.90,295.00) scale(0.85,1)" font-size="4.2" text-anchor="middle" fill="#222" stroke="#222" stroke-width="0.08">2</text>
<text transform="translate(174.50,295.00) scale(0.85,1)" font-size="4.2" text-anchor="middle" fill="#222" stroke="#222" stroke-width="0.08">4</text>
<text transform="translate(181.90,295.00) scale(0.85,1)" font-size="4.2" text-anchor="middle" fill="#222" stroke="#222" stroke-width="0.08">8</text>
<text x="199.8" y="152.8" font-size="6.8" text-anchor="start" fill="#444" stroke="#444" stroke-width="0.1">D</text>
<rect x="195.7" y="154.6" width="203.0" height="143.5" fill="none" stroke="#686868" stroke-width="1.3"/>
<text transform="translate(210.20,191.10) scale(0.91,1)" font-size="5.7" text-anchor="start" fill="#222" stroke="#222" stroke-width="0.1">Points</text>
<text transform="translate(210.20,202.20) scale(0.91,1)" font-size="5.7" text-anchor="start" fill="#222" stroke="#222" stroke-width="0.1">Albumin</text>
<text transform="translate(210.20,213.20) scale(0.91,1)" font-size="5.7" text-anchor="start" fill="#222" stroke="#222" stroke-width="0.1">Lymphocyte</text>
<text transform="translate(210.20,224.60) scale(0.91,1)" font-size="5.7" text-anchor="start" fill="#222" stroke="#222" stroke-width="0.1">Diabet</text>
<text transform="translate(210.20,235.70) scale(0.91,1)" font-size="5.7" text-anchor="start" fill="#222" stroke="#222" stroke-width="0.1">CA199</text>
<text transform="translate(210.20,247.00) scale(0.91,1)" font-size="5.7" text-anchor="start" fill="#222" stroke="#222" stroke-width="0.1">Total Points</text>
<text transform="translate(210.20,257.30) scale(0.91,1)" font-size="5.7" text-anchor="start" fill="#222" stroke="#222" stroke-width="0.1">2−year survival</text>
<line x1="253.40" y1="189.20" x2="379.40" y2="189.20" stroke="#333" stroke-width="0.7"/>
<line x1="253.40" y1="189.20" x2="253.40" y2="187.60" stroke="#333" stroke-width="0.45"/>
<line x1="255.92" y1="189.20" x2="255.92" y2="188.20" stroke="#333" stroke-width="0.45"/>
<line x1="258.44" y1="189.20" x2="258.44" y2="188.20" stroke="#333" stroke-width="0.45"/>
<line x1="260.96" y1="189.20" x2="260.96" y2="188.20" stroke="#333" stroke-width="0.45"/>
<line x1="263.48" y1="189.20" x2="263.48" y2="188.20" stroke="#333" stroke-width="0.45"/>
<line x1="266.00" y1="189.20" x2="266.00" y2="187.60" stroke="#333" stroke-width="0.45"/>
<line x1="268.52" y1="189.20" x2="268.52" y2="188.20" stroke="#333" stroke-width="0.45"/>
<line x1="271.04" y1="189.20" x2="271.04" y2="188.20" stroke="#333" stroke-width="0.45"/>
<line x1="273.56" y1="189.20" x2="273.56" y2="188.20" stroke="#333" stroke-width="0.45"/>
<line x1="276.08" y1="189.20" x2="276.08" y2="188.20" stroke="#333" stroke-width="0.45"/>
<line x1="278.60" y1="189.20" x2="278.60" y2="187.60" stroke="#333" stroke-width="0.45"/>
<line x1="281.12" y1="189.20" x2="281.12" y2="188.20" stroke="#333" stroke-width="0.45"/>
<line x1="283.64" y1="189.20" x2="283.64" y2="188.20" stroke="#333" stroke-width="0.45"/>
<line x1="286.16" y1="189.20" x2="286.16" y2="188.20" stroke="#333" stroke-width="0.45"/>
<line x1="288.68" y1="189.20" x2="288.68" y2="188.20" stroke="#333" stroke-width="0.45"/>
<line x1="291.20" y1="189.20" x2="291.20" y2="187.60" stroke="#333" stroke-width="0.45"/>
<line x1="293.72" y1="189.20" x2="293.72" y2="188.20" stroke="#333" stroke-width="0.45"/>
<line x1="296.24" y1="189.20" x2="296.24" y2="188.20" stroke="#333" stroke-width="0.45"/>
<line x1="298.76" y1="189.20" x2="298.76" y2="188.20" stroke="#333" stroke-width="0.45"/>
<line x1="301.28" y1="189.20" x2="301.28" y2="188.20" stroke="#333" stroke-width="0.45"/>
<line x1="303.80" y1="189.20" x2="303.80" y2="187.60" stroke="#333" stroke-width="0.45"/>
<line x1="306.32" y1="189.20" x2="306.32" y2="188.20" stroke="#333" stroke-width="0.45"/>
<line x1="308.84" y1="189.20" x2="308.84" y2="188.20" stroke="#333" stroke-width="0.45"/>
<line x1="311.36" y1="189.20" x2="311.36" y2="188.20" stroke="#333" stroke-width="0.45"/>
<line x1="313.88" y1="189.20" x2="313.88" y2="188.20" stroke="#333" stroke-width="0.45"/>
<line x1="316.40" y1="189.20" x2="316.40" y2="187.60" stroke="#333" stroke-width="0.45"/>
<line x1="318.92" y1="189.20" x2="318.92" y2="188.20" stroke="#333" stroke-width="0.45"/>
<line x1="321.44" y1="189.20" x2="321.44" y2="188.20" stroke="#333" stroke-width="0.45"/>
<line x1="323.96" y1="189.20" x2="323.96" y2="188.20" stroke="#333" stroke-width="0.45"/>
<line x1="326.48" y1="189.20" x2="326.48" y2="188.20" stroke="#333" stroke-width="0.45"/>
<line x1="329.00" y1="189.20" x2="329.00" y2="187.60" stroke="#333" stroke-width="0.45"/>
<line x1="331.52" y1="189.20" x2="331.52" y2="188.20" stroke="#333" stroke-width="0.45"/>
<line x1="334.04" y1="189.20" x2="334.04" y2="188.20" stroke="#333" stroke-width="0.45"/>
<line x1="336.56" y1="189.20" x2="336.56" y2="188.20" stroke="#333" stroke-width="0.45"/>
<line x1="339.08" y1="189.20" x2="339.08" y2="188.20" stroke="#333" stroke-width="0.45"/>
<line x1="341.60" y1="189.20" x2="341.60" y2="187.60" stroke="#333" stroke-width="0.45"/>
<line x1="344.12" y1="189.20" x2="344.12" y2="188.20" stroke="#333" stroke-width="0.45"/>
<line x1="346.64" y1="189.20" x2="346.64" y2="188.20" stroke="#333" stroke-width="0.45"/>
<line x1="349.16" y1="189.20" x2="349.16" y2="188.20" stroke="#333" stroke-width="0.45"/>
<line x1="351.68" y1="189.20" x2="351.68" y2="188.20" stroke="#333" stroke-width="0.45"/>
<line x1="354.20" y1="189.20" x2="354.20" y2="187.60" stroke="#333" stroke-width="0.45"/>
<line x1="356.72" y1="189.20" x2="356.72" y2="188.20" stroke="#333" stroke-width="0.45"/>
<line x1="359.24" y1="189.20" x2="359.24" y2="188.20" stroke="#333" stroke-width="0.45"/>
<line x1="361.76" y1="189.20" x2="361.76" y2="188.20" stroke="#333" stroke-width="0.45"/>
<line x1="364.28" y1="189.20" x2="364.28" y2="188.20" stroke="#333" stroke-width="0.45"/>
<line x1="366.80" y1="189.20" x2="366.80" y2="187.60" stroke="#333" stroke-width="0.45"/>
<line x1="369.32" y1="189.20" x2="369.32" y2="188.20" stroke="#333" stroke-width="0.45"/>
<line x1="371.84" y1="189.20" x2="371.84" y2="188.20" stroke="#333" stroke-width="0.45"/>
<line x1="374.36" y1="189.20" x2="374.36" y2="188.20" stroke="#333" stroke-width="0.45"/>
<line x1="376.88" y1="189.20" x2="376.88" y2="188.20" stroke="#333" stroke-width="0.45"/>
<line x1="379.40" y1="189.20" x2="379.40" y2="187.60" stroke="#333" stroke-width="0.45"/>
<text transform="translate(253.40,184.60) scale(0.88,1)" font-size="5.5" text-anchor="middle" fill="#222" stroke="#222" stroke-width="0.1">0</text>
<text transform="translate(266.00,184.60) scale(0.88,1)" font-size="5.5" text-anchor="middle" fill="#222" stroke="#222" stroke-width="0.1">1</text>
<text transform="translate(278.60,184.60) scale(0.88,1)" font-size="5.5" text-anchor="middle" fill="#222" stroke="#222" stroke-width="0.1">2</text>
<text transform="translate(291.20,184.60) scale(0.88,1)" font-size="5.5" text-anchor="middle" fill="#222" stroke="#222" stroke-width="0.1">3</text>
<text transform="translate(303.80,184.60) scale(0.88,1)" font-size="5.5" text-anchor="middle" fill="#222" stroke="#222" stroke-width="0.1">4</text>
<text transform="translate(316.40,184.60) scale(0.88,1)" font-size="5.5" text-anchor="middle" fill="#222" stroke="#222" stroke-width="0.1">5</text>
<text transform="translate(329.00,184.60) scale(0.88,1)" font-size="5.5" text-anchor="middle" fill="#222" stroke="#222" stroke-width="0.1">6</text>
<text transform="translate(341.60,184.60) scale(0.88,1)" font-size="5.5" text-anchor="middle" fill="#222" stroke="#222" stroke-width="0.1">7</text>
<text transform="translate(354.20,184.60) scale(0.88,1)" font-size="5.5" text-anchor="middle" fill="#222" stroke="#222" stroke-width="0.1">8</text>
<text transform="translate(366.80,184.60) scale(0.88,1)" font-size="5.5" text-anchor="middle" fill="#222" stroke="#222" stroke-width="0.1">9</text>
<text transform="translate(379.40,184.60) scale(0.88,1)" font-size="5.5" text-anchor="middle" fill="#222" stroke="#222" stroke-width="0.1">10</text>
<line x1="253.40" y1="200.20" x2="379.40" y2="200.20" stroke="#333" stroke-width="0.75"/>
<line x1="253.40" y1="200.20" x2="253.40" y2="202.20" stroke="#333" stroke-width="0.6"/>
<line x1="379.40" y1="200.20" x2="379.40" y2="202.20" stroke="#333" stroke-width="0.6"/>
<line x1="316.40" y1="200.20" x2="316.40" y2="198.00" stroke="#333" stroke-width="0.6"/>
<text transform="translate(316.40,195.80) scale(0.88,1)" font-size="5.5" text-anchor="middle" fill="#222" stroke="#222" stroke-width="0.1">1</text>
<text transform="translate(379.40,208.30) scale(0.88,1)" font-size="5.5" text-anchor="middle" fill="#222" stroke="#222" stroke-width="0.1">2</text>
<text transform="translate(253.40,208.10) scale(0.88,1)" font-size="5.5" text-anchor="middle" fill="#222" stroke="#222" stroke-width="0.1">0</text>
<line x1="253.40" y1="211.30" x2="325.30" y2="211.30" stroke="#333" stroke-width="0.75"/>
<line x1="253.40" y1="211.30" x2="253.40" y2="213.30" stroke="#333" stroke-width="0.6"/>
<line x1="325.30" y1="211.30" x2="325.30" y2="209.30" stroke="#333" stroke-width="0.6"/>
<text transform="translate(325.30,206.40) scale(0.88,1)" font-size="5.5" text-anchor="middle" fill="#222" stroke="#222" stroke-width="0.1">1</text>
<text transform="translate(253.40,219.20) scale(0.88,1)" font-size="5.5" text-anchor="middle" fill="#222" stroke="#222" stroke-width="0.1">0</text>
<line x1="253.40" y1="222.50" x2="293.60" y2="222.50" stroke="#333" stroke-width="0.75"/>
<line x1="253.40" y1="222.50" x2="253.40" y2="224.50" stroke="#333" stroke-width="0.6"/>
<line x1="293.60" y1="222.50" x2="293.60" y2="220.50" stroke="#333" stroke-width="0.6"/>
<text transform="translate(293.60,217.60) scale(0.88,1)" font-size="5.5" text-anchor="middle" fill="#222" stroke="#222" stroke-width="0.1">1</text>
<text transform="translate(253.40,229.60) scale(0.88,1)" font-size="5.5" text-anchor="middle" fill="#222" stroke="#222" stroke-width="0.1">0</text>
<line x1="253.40" y1="233.50" x2="290.50" y2="233.50" stroke="#333" stroke-width="0.75"/>
<line x1="253.40" y1="233.50" x2="253.40" y2="235.50" stroke="#333" stroke-width="0.6"/>
<line x1="290.50" y1="233.50" x2="290.50" y2="231.50" stroke="#333" stroke-width="0.6"/>
<text transform="translate(290.50,228.70) scale(0.88,1)" font-size="5.5" text-anchor="middle" fill="#222" stroke="#222" stroke-width="0.1">1</text>
<text transform="translate(253.40,241.90) scale(0.88,1)" font-size="5.5" text-anchor="middle" fill="#222" stroke="#222" stroke-width="0.1">0</text>
<line x1="253.40" y1="244.80" x2="378.80" y2="244.80" stroke="#333" stroke-width="0.6"/>
<line x1="253.40" y1="244.80" x2="253.40" y2="246.30" stroke="#333" stroke-width="0.4"/>
<line x1="254.65" y1="244.80" x2="254.65" y2="245.70" stroke="#333" stroke-width="0.4"/>
<line x1="255.91" y1="244.80" x2="255.91" y2="245.70" stroke="#333" stroke-width="0.4"/>
<line x1="257.16" y1="244.80" x2="257.16" y2="245.70" stroke="#333" stroke-width="0.4"/>
<line x1="258.42" y1="244.80" x2="258.42" y2="245.70" stroke="#333" stroke-width="0.4"/>
<line x1="259.67" y1="244.80" x2="259.67" y2="245.70" stroke="#333" stroke-width="0.4"/>
<line x1="260.92" y1="244.80" x2="260.92" y2="245.70" stroke="#333" stroke-width="0.4"/>
<line x1="262.18" y1="244.80" x2="262.18" y2="245.70" stroke="#333" stroke-width="0.4"/>
<line x1="263.43" y1="244.80" x2="263.43" y2="245.70" stroke="#333" stroke-width="0.4"/>
<line x1="264.69" y1="244.80" x2="264.69" y2="245.70" stroke="#333" stroke-width="0.4"/>
<line x1="265.94" y1="244.80" x2="265.94" y2="246.30" stroke="#333" stroke-width="0.4"/>
<line x1="267.19" y1="244.80" x2="267.19" y2="245.70" stroke="#333" stroke-width="0.4"/>
<line x1="268.45" y1="244.80" x2="268.45" y2="245.70" stroke="#333" stroke-width="0.4"/>
<line x1="269.70" y1="244.80" x2="269.70" y2="245.70" stroke="#333" stroke-width="0.4"/>
<line x1="270.96" y1="244.80" x2="270.96" y2="245.70" stroke="#333" stroke-width="0.4"/>
<line x1="272.21" y1="244.80" x2="272.21" y2="245.70" stroke="#333" stroke-width="0.4"/>
<line x1="273.46" y1="244.80" x2="273.46" y2="245.70" stroke="#333" stroke-width="0.4"/>
<line x1="274.72" y1="244.80" x2="274.72" y2="245.70" stroke="#333" stroke-width="0.4"/>
<line x1="275.97" y1="244.80" x2="275.97" y2="245.70" stroke="#333" stroke-width="0.4"/>
<line x1="277.23" y1="244.80" x2="277.23" y2="245.70" stroke="#333" stroke-width="0.4"/>
<line x1="278.48" y1="244.80" x2="278.48" y2="246.30" stroke="#333" stroke-width="0.4"/>
<line x1="279.73" y1="244.80" x2="279.73" y2="245.70" stroke="#333" stroke-width="0.4"/>
<line x1="280.99" y1="244.80" x2="280.99" y2="245.70" stroke="#333" stroke-width="0.4"/>
<line x1="282.24" y1="244.80" x2="282.24" y2="245.70" stroke="#333" stroke-width="0.4"/>
<line x1="283.50" y1="244.80" x2="283.50" y2="245.70" stroke="#333" stroke-width="0.4"/>
<line x1="284.75" y1="244.80" x2="284.75" y2="245.70" stroke="#333" stroke-width="0.4"/>
<line x1="286.00" y1="244.80" x2="286.00" y2="245.70" stroke="#333" stroke-width="0.4"/>
<line x1="287.26" y1="244.80" x2="287.26" y2="245.70" stroke="#333" stroke-width="0.4"/>
<line x1="288.51" y1="244.80" x2="288.51" y2="245.70" stroke="#333" stroke-width="0.4"/>
<line x1="289.77" y1="244.80" x2="289.77" y2="245.70" stroke="#333" stroke-width="0.4"/>
<line x1="291.02" y1="244.80" x2="291.02" y2="246.30" stroke="#333" stroke-width="0.4"/>
<line x1="292.27" y1="244.80" x2="292.27" y2="245.70" stroke="#333" stroke-width="0.4"/>
<line x1="293.53" y1="244.80" x2="293.53" y2="245.70" stroke="#333" stroke-width="0.4"/>
<line x1="294.78" y1="244.80" x2="294.78" y2="245.70" stroke="#333" stroke-width="0.4"/>
<line x1="296.04" y1="244.80" x2="296.04" y2="245.70" stroke="#333" stroke-width="0.4"/>
<line x1="297.29" y1="244.80" x2="297.29" y2="245.70" stroke="#333" stroke-width="0.4"/>
<line x1="298.54" y1="244.80" x2="298.54" y2="245.70" stroke="#333" stroke-width="0.4"/>
<line x1="299.80" y1="244.80" x2="299.80" y2="245.70" stroke="#333" stroke-width="0.4"/>
<line x1="301.05" y1="244.80" x2="301.05" y2="245.70" stroke="#333" stroke-width="0.4"/>
<line x1="302.31" y1="244.80" x2="302.31" y2="245.70" stroke="#333" stroke-width="0.4"/>
<line x1="303.56" y1="244.80" x2="303.56" y2="246.30" stroke="#333" stroke-width="0.4"/>
<line x1="304.81" y1="244.80" x2="304.81" y2="245.70" stroke="#333" stroke-width="0.4"/>
<line x1="306.07" y1="244.80" x2="306.07" y2="245.70" stroke="#333" stroke-width="0.4"/>
<line x1="307.32" y1="244.80" x2="307.32" y2="245.70" stroke="#333" stroke-width="0.4"/>
<line x1="308.58" y1="244.80" x2="308.58" y2="245.70" stroke="#333" stroke-width="0.4"/>
<line x1="309.83" y1="244.80" x2="309.83" y2="245.70" stroke="#333" stroke-width="0.4"/>
<line x1="311.08" y1="244.80" x2="311.08" y2="245.70" stroke="#333" stroke-width="0.4"/>
<line x1="312.34" y1="244.80" x2="312.34" y2="245.70" stroke="#333" stroke-width="0.4"/>
<line x1="313.59" y1="244.80" x2="313.59" y2="245.70" stroke="#333" stroke-width="0.4"/>
<line x1="314.85" y1="244.80" x2="314.85" y2="245.70" stroke="#333" stroke-width="0.4"/>
<line x1="316.10" y1="244.80" x2="316.10" y2="246.30" stroke="#333" stroke-width="0.4"/>
<line x1="317.35" y1="244.80" x2="317.35" y2="245.70" stroke="#333" stroke-width="0.4"/>
<line x1="318.61" y1="244.80" x2="318.61" y2="245.70" stroke="#333" stroke-width="0.4"/>
<line x1="319.86" y1="244.80" x2="319.86" y2="245.70" stroke="#333" stroke-width="0.4"/>
<line x1="321.12" y1="244.80" x2="321.12" y2="245.70" stroke="#333" stroke-width="0.4"/>
<line x1="322.37" y1="244.80" x2="322.37" y2="245.70" stroke="#333" stroke-width="0.4"/>
<line x1="323.62" y1="244.80" x2="323.62" y2="245.70" stroke="#333" stroke-width="0.4"/>
<line x1="324.88" y1="244.80" x2="324.88" y2="245.70" stroke="#333" stroke-width="0.4"/>
<line x1="326.13" y1="244.80" x2="326.13" y2="245.70" stroke="#333" stroke-width="0.4"/>
<line x1="327.39" y1="244.80" x2="327.39" y2="245.70" stroke="#333" stroke-width="0.4"/>
<line x1="328.64" y1="244.80" x2="328.64" y2="246.30" stroke="#333" stroke-width="0.4"/>
<line x1="329.89" y1="244.80" x2="329.89" y2="245.70" stroke="#333" stroke-width="0.4"/>
<line x1="331.15" y1="244.80" x2="331.15" y2="245.70" stroke="#333" stroke-width="0.4"/>
<line x1="332.40" y1="244.80" x2="332.40" y2="245.70" stroke="#333" stroke-width="0.4"/>
<line x1="333.66" y1="244.80" x2="333.66" y2="245.70" stroke="#333" stroke-width="0.4"/>
<line x1="334.91" y1="244.80" x2="334.91" y2="245.70" stroke="#333" stroke-width="0.4"/>
<line x1="336.16" y1="244.80" x2="336.16" y2="245.70" stroke="#333" stroke-width="0.4"/>
<line x1="337.42" y1="244.80" x2="337.42" y2="245.70" stroke="#333" stroke-width="0.4"/>
<line x1="338.67" y1="244.80" x2="338.67" y2="245.70" stroke="#333" stroke-width="0.4"/>
<line x1="339.93" y1="244.80" x2="339.93" y2="245.70" stroke="#333" stroke-width="0.4"/>
<line x1="341.18" y1="244.80" x2="341.18" y2="246.30" stroke="#333" stroke-width="0.4"/>
<line x1="342.43" y1="244.80" x2="342.43" y2="245.70" stroke="#333" stroke-width="0.4"/>
<line x1="343.69" y1="244.80" x2="343.69" y2="245.70" stroke="#333" stroke-width="0.4"/>
<line x1="344.94" y1="244.80" x2="344.94" y2="245.70" stroke="#333" stroke-width="0.4"/>
<line x1="346.20" y1="244.80" x2="346.20" y2="245.70" stroke="#333" stroke-width="0.4"/>
<line x1="347.45" y1="244.80" x2="347.45" y2="245.70" stroke="#333" stroke-width="0.4"/>
<line x1="348.70" y1="244.80" x2="348.70" y2="245.70" stroke="#333" stroke-width="0.4"/>
<line x1="349.96" y1="244.80" x2="349.96" y2="245.70" stroke="#333" stroke-width="0.4"/>
<line x1="351.21" y1="244.80" x2="351.21" y2="245.70" stroke="#333" stroke-width="0.4"/>
<line x1="352.47" y1="244.80" x2="352.47" y2="245.70" stroke="#333" stroke-width="0.4"/>
<line x1="353.72" y1="244.80" x2="353.72" y2="246.30" stroke="#333" stroke-width="0.4"/>
<line x1="354.97" y1="244.80" x2="354.97" y2="245.70" stroke="#333" stroke-width="0.4"/>
<line x1="356.23" y1="244.80" x2="356.23" y2="245.70" stroke="#333" stroke-width="0.4"/>
<line x1="357.48" y1="244.80" x2="357.48" y2="245.70" stroke="#333" stroke-width="0.4"/>
<line x1="358.74" y1="244.80" x2="358.74" y2="245.70" stroke="#333" stroke-width="0.4"/>
<line x1="359.99" y1="244.80" x2="359.99" y2="245.70" stroke="#333" stroke-width="0.4"/>
<line x1="361.24" y1="244.80" x2="361.24" y2="245.70" stroke="#333" stroke-width="0.4"/>
<line x1="362.50" y1="244.80" x2="362.50" y2="245.70" stroke="#333" stroke-width="0.4"/>
<line x1="363.75" y1="244.80" x2="363.75" y2="245.70" stroke="#333" stroke-width="0.4"/>
<line x1="365.01" y1="244.80" x2="365.01" y2="245.70" stroke="#333" stroke-width="0.4"/>
<line x1="366.26" y1="244.80" x2="366.26" y2="246.30" stroke="#333" stroke-width="0.4"/>
<line x1="367.51" y1="244.80" x2="367.51" y2="245.70" stroke="#333" stroke-width="0.4"/>
<line x1="368.77" y1="244.80" x2="368.77" y2="245.70" stroke="#333" stroke-width="0.4"/>
<line x1="370.02" y1="244.80" x2="370.02" y2="245.70" stroke="#333" stroke-width="0.4"/>
<line x1="371.28" y1="244.80" x2="371.28" y2="245.70" stroke="#333" stroke-width="0.4"/>
<line x1="372.53" y1="244.80" x2="372.53" y2="245.70" stroke="#333" stroke-width="0.4"/>
<line x1="373.78" y1="244.80" x2="373.78" y2="245.70" stroke="#333" stroke-width="0.4"/>
<line x1="375.04" y1="244.80" x2="375.04" y2="245.70" stroke="#333" stroke-width="0.4"/>
<line x1="376.29" y1="244.80" x2="376.29" y2="245.70" stroke="#333" stroke-width="0.4"/>
<line x1="377.55" y1="244.80" x2="377.55" y2="245.70" stroke="#333" stroke-width="0.4"/>
<line x1="378.80" y1="244.80" x2="378.80" y2="246.30" stroke="#333" stroke-width="0.4"/>
<text transform="translate(253.40,253.60) scale(0.88,1)" font-size="5.5" text-anchor="middle" fill="#222" stroke="#222" stroke-width="0.1">0</text>
<text transform="translate(265.94,253.60) scale(0.88,1)" font-size="5.5" text-anchor="middle" fill="#222" stroke="#222" stroke-width="0.1">2</text>
<text transform="translate(278.48,253.60) scale(0.88,1)" font-size="5.5" text-anchor="middle" fill="#222" stroke="#222" stroke-width="0.1">4</text>
<text transform="translate(291.02,253.60) scale(0.88,1)" font-size="5.5" text-anchor="middle" fill="#222" stroke="#222" stroke-width="0.1">6</text>
<text transform="translate(303.56,253.60) scale(0.88,1)" font-size="5.5" text-anchor="middle" fill="#222" stroke="#222" stroke-width="0.1">8</text>
<text transform="translate(316.10,253.60) scale(0.88,1)" font-size="5.5" text-anchor="middle" fill="#222" stroke="#222" stroke-width="0.1">10</text>
<text transform="translate(328.64,253.60) scale(0.88,1)" font-size="5.5" text-anchor="middle" fill="#222" stroke="#222" stroke-width="0.1">12</text>
<text transform="translate(341.18,253.60) scale(0.88,1)" font-size="5.5" text-anchor="middle" fill="#222" stroke="#222" stroke-width="0.1">14</text>
<text transform="translate(353.72,253.60) scale(0.88,1)" font-size="5.5" text-anchor="middle" fill="#222" stroke="#222" stroke-width="0.1">16</text>
<text transform="translate(366.26,253.60) scale(0.88,1)" font-size="5.5" text-anchor="middle" fill="#222" stroke="#222" stroke-width="0.1">18</text>
<text transform="translate(378.80,253.60) scale(0.88,1)" font-size="5.5" text-anchor="middle" fill="#222" stroke="#222" stroke-width="0.1">20</text>
<line x1="249.40" y1="255.90" x2="323.80" y2="255.90" stroke="#333" stroke-width="0.7"/>
<line x1="249.60" y1="255.90" x2="249.60" y2="257.50" stroke="#333" stroke-width="0.5"/>
<line x1="256.90" y1="255.90" x2="256.90" y2="257.50" stroke="#333" stroke-width="0.5"/>
<line x1="271.60" y1="255.90" x2="271.60" y2="257.50" stroke="#333" stroke-width="0.5"/>
<line x1="281.20" y1="255.90" x2="281.20" y2="257.50" stroke="#333" stroke-width="0.5"/>
<line x1="290.00" y1="255.90" x2="290.00" y2="257.50" stroke="#333" stroke-width="0.5"/>
<line x1="297.40" y1="255.90" x2="297.40" y2="257.50" stroke="#333" stroke-width="0.5"/>
<line x1="305.20" y1="255.90" x2="305.20" y2="257.50" stroke="#333" stroke-width="0.5"/>
<line x1="313.70" y1="255.90" x2="313.70" y2="257.50" stroke="#333" stroke-width="0.5"/>
<line x1="323.20" y1="255.90" x2="323.20" y2="257.50" stroke="#333" stroke-width="0.5"/>
<text transform="translate(249.35,264.6) scale(0.76,1)" font-size="5.3" text-anchor="middle" fill="#222" stroke="#222" stroke-width="0.1">0.85</text>
<text transform="translate(256.9,264.6) scale(0.76,1)" font-size="5.3" text-anchor="middle" fill="#222" stroke="#222" stroke-width="0.1">0.8</text>
<text transform="translate(271.6,264.6) scale(0.76,1)" font-size="5.3" text-anchor="middle" fill="#222" stroke="#222" stroke-width="0.1">0.7</text>
<text transform="translate(281.2,264.6) scale(0.76,1)" font-size="5.3" text-anchor="middle" fill="#222" stroke="#222" stroke-width="0.1">0.6</text>
<text transform="translate(289.2,264.6) scale(0.76,1)" font-size="5.3" text-anchor="middle" fill="#222" stroke="#222" stroke-width="0.1">0.5</text>
<text transform="translate(296.8,264.6) scale(0.76,1)" font-size="5.3" text-anchor="middle" fill="#222" stroke="#222" stroke-width="0.1">0.4</text>
<text transform="translate(304.5,264.6) scale(0.76,1)" font-size="5.3" text-anchor="middle" fill="#222" stroke="#222" stroke-width="0.1">0.3</text>
<text transform="translate(311.4,264.6) scale(0.76,1)" font-size="5.3" text-anchor="middle" fill="#222" stroke="#222" stroke-width="0.1">0.2</text>
<text transform="translate(323.5,264.6) scale(0.76,1)" font-size="5.3" text-anchor="middle" fill="#222" stroke="#222" stroke-width="0.1">0.1</text>
</svg>
</body></html>
